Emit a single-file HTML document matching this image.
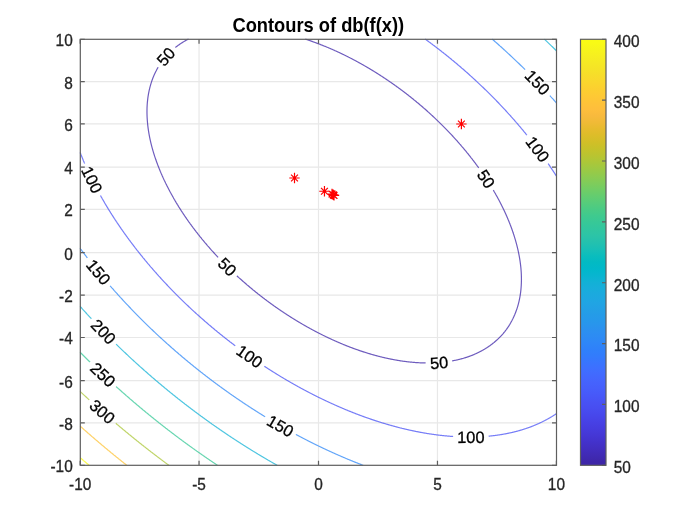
<!DOCTYPE html><html><head><meta charset="utf-8"><style>html,body{margin:0;padding:0;background:#fff;width:698px;height:523px;overflow:hidden}svg{display:block;will-change:transform}text{font-family:"Liberation Sans",sans-serif}</style></head><body>
<svg width="698" height="523" viewBox="0 0 698 523">
<rect x="0" y="0" width="698" height="523" fill="#fff"/>
<path d="M199.04 39.30 V465.30 M318.50 39.30 V465.30 M437.47 39.30 V465.30 M80.30 422.95 H556.50 M80.30 380.55 H556.50 M80.30 337.50 H556.50 M80.30 295.10 H556.50 M80.30 252.70 H556.50 M80.30 209.40 H556.50 M80.30 167.20 H556.50 M80.30 123.94 H556.50 M80.30 81.58 H556.50" stroke="#e8e8e8" stroke-width="1.2" fill="none"/>
<g fill="none" stroke-width="1.20" stroke-linejoin="round" stroke-linecap="butt">
<path stroke="#3e26a8" stroke-opacity="0.75" d="M188.51 39.07 L188.12 39.27 L187.87 39.40 L187.55 39.57 L187.12 39.80 L186.87 39.94 L186.62 40.07 L186.17 40.32 L185.87 40.49 L185.62 40.63 L185.28 40.82 L184.87 41.05 L184.62 41.20 L184.37 41.34 L183.99 41.57 L183.62 41.79 L183.37 41.94 L183.12 42.09 L182.75 42.32 L182.37 42.56 L182.12 42.72 L181.87 42.87 L181.56 43.07 L181.18 43.32 L180.87 43.52 L180.62 43.69 L180.37 43.85 L180.05 44.07 L179.68 44.32 L179.37 44.54 L179.12 44.71 L178.87 44.88 L178.61 45.07 L178.26 45.32 L177.91 45.57 L177.62 45.78 L177.37 45.97 L177.12 46.15 L176.87 46.34 L176.57 46.57 L176.24 46.82 L175.92 47.07 L175.62 47.31 L175.37 47.50 M158.12 67.30 L157.96 67.57 L157.82 67.82 L157.62 68.16 L157.39 68.57 L157.25 68.82 L157.11 69.07 L156.87 69.51 L156.70 69.82 L156.57 70.07 L156.37 70.45 L156.17 70.82 L156.05 71.07 L155.87 71.42 L155.67 71.82 L155.54 72.07 L155.37 72.42 L155.18 72.82 L155.06 73.07 L154.87 73.47 L154.71 73.82 L154.59 74.07 L154.37 74.56 L154.25 74.82 L154.12 75.12 L153.93 75.57 L153.82 75.82 L153.62 76.29 L153.50 76.57 L153.37 76.89 L153.20 77.32 L153.10 77.57 L152.90 78.07 L152.80 78.32 L152.62 78.80 L152.52 79.07 L152.37 79.46 L152.24 79.82 L152.12 80.15 L151.97 80.57 L151.87 80.86 L151.71 81.32 L151.62 81.59 L151.46 82.07 L151.37 82.35 L151.22 82.82 L151.12 83.13 L150.98 83.57 L150.87 83.93 L150.75 84.32 L150.62 84.77 L150.53 85.07 L150.39 85.57 L150.32 85.82 L150.18 86.32 L150.12 86.57 L149.98 87.07 L149.87 87.51 L149.79 87.82 L149.67 88.32 L149.61 88.57 L149.49 89.07 L149.37 89.57 L149.31 89.82 L149.20 90.32 L149.12 90.70 L149.04 91.07 L148.94 91.57 L148.87 91.90 L148.79 92.32 L148.69 92.82 L148.62 93.19 L148.55 93.57 L148.46 94.07 L148.37 94.57 L148.33 94.82 L148.25 95.32 L148.17 95.82 L148.12 96.13 L148.05 96.57 L147.98 97.07 L147.91 97.57 L147.87 97.88 L147.81 98.32 L147.75 98.82 L147.69 99.32 L147.63 99.82 L147.60 100.07 L147.55 100.57 L147.50 101.07 L147.45 101.57 L147.40 102.07 L147.37 102.42 L147.34 102.82 L147.30 103.32 L147.26 103.82 L147.22 104.32 L147.19 104.82 L147.16 105.32 L147.13 105.82 L147.12 106.07 L147.09 106.57 L147.07 107.07 L147.05 107.57 L147.03 108.07 L147.02 108.57 L147.01 109.07 L147.00 109.57 L146.99 110.07 L146.98 110.57 L146.98 111.07 L146.98 111.57 L146.98 112.07 L146.98 112.57 L146.99 113.07 L146.99 113.57 L147.00 114.07 L147.02 114.57 L147.03 115.07 L147.05 115.57 L147.06 116.07 L147.08 116.57 L147.11 117.07 L147.12 117.35 L147.14 117.82 L147.17 118.32 L147.20 118.82 L147.23 119.32 L147.27 119.82 L147.30 120.32 L147.34 120.82 L147.37 121.20 L147.40 121.57 L147.44 122.07 L147.49 122.57 L147.54 123.07 L147.58 123.57 L147.62 123.93 L147.66 124.32 L147.71 124.82 L147.77 125.32 L147.83 125.82 L147.87 126.18 L147.92 126.57 L147.98 127.07 L148.04 127.57 L148.11 128.07 L148.14 128.32 L148.21 128.82 L148.28 129.32 L148.36 129.82 L148.39 130.07 L148.47 130.57 L148.54 131.07 L148.62 131.55 L148.66 131.82 L148.75 132.32 L148.83 132.82 L148.87 133.07 L148.96 133.57 L149.05 134.07 L149.12 134.48 L149.18 134.82 L149.27 135.32 L149.37 135.82 L149.42 136.07 L149.51 136.57 L149.61 137.07 L149.66 137.32 L149.76 137.82 L149.87 138.32 L149.92 138.57 L150.02 139.07 L150.12 139.51 L150.19 139.82 L150.30 140.32 L150.37 140.65 L150.46 141.07 L150.58 141.57 L150.64 141.82 L150.75 142.32 L150.87 142.81 L150.93 143.07 L151.05 143.57 L151.12 143.84 L151.24 144.32 L151.36 144.82 L151.43 145.07 L151.55 145.57 L151.62 145.82 L151.75 146.32 L151.87 146.78 L151.95 147.07 L152.08 147.57 L152.15 147.82 L152.29 148.32 L152.37 148.62 L152.49 149.07 L152.62 149.51 L152.71 149.82 L152.85 150.32 L152.92 150.57 L153.07 151.07 L153.14 151.32 L153.29 151.82 L153.37 152.09 L153.51 152.57 L153.62 152.92 L153.74 153.32 L153.87 153.73 L153.98 154.07 L154.12 154.53 L154.21 154.82 L154.37 155.32 L154.45 155.57 L154.61 156.07 L154.69 156.32 L154.86 156.82 L154.94 157.07 L155.11 157.57 L155.19 157.82 L155.36 158.32 L155.45 158.57 L155.62 159.07 L155.70 159.32 L155.87 159.80 L155.96 160.07 L156.12 160.52 L156.23 160.82 L156.37 161.22 L156.49 161.57 L156.62 161.92 L156.77 162.32 L156.87 162.61 L157.04 163.07 L157.13 163.32 L157.32 163.82 L157.41 164.07 L157.60 164.57 L157.69 164.82 L157.87 165.28 L157.98 165.57 L158.12 165.93 L158.27 166.32 L158.37 166.58 L158.56 167.07 L158.66 167.32 L158.86 167.82 L158.96 168.07 L159.12 168.48 L159.26 168.82 L159.37 169.10 L159.56 169.57 L159.66 169.82 L159.87 170.32 L159.97 170.57 L160.12 170.93 L160.28 171.32 L160.39 171.57 L160.60 172.07 L160.71 172.32 L160.87 172.71 L161.03 173.07 L161.13 173.32 L161.35 173.82 L161.46 174.07 L161.62 174.44 L161.78 174.82 L161.89 175.07 L162.11 175.57 L162.23 175.82 L162.37 176.14 L162.56 176.57 L162.67 176.82 L162.87 177.25 L163.01 177.57 L163.13 177.82 L163.36 178.32 L163.47 178.57 L163.62 178.89 L163.82 179.32 L163.93 179.57 L164.12 179.97 L164.29 180.32 L164.40 180.57 L164.62 181.02 L164.76 181.32 L164.88 181.57 L165.12 182.07 L165.24 182.32 L165.37 182.59 L165.60 183.07 L165.73 183.32 L165.87 183.61 L166.09 184.07 L166.22 184.32 L166.37 184.63 L166.59 185.07 L166.71 185.32 L166.87 185.63 L167.09 186.07 L167.22 186.32 L167.37 186.62 L167.60 187.07 L167.73 187.32 L167.87 187.60 L168.11 188.07 L168.24 188.32 L168.37 188.57 L168.62 189.05 L168.76 189.32 L168.89 189.57 L169.12 190.00 L169.29 190.32 L169.42 190.57 L169.62 190.94 L169.82 191.32 L169.95 191.57 L170.12 191.88 L170.36 192.32 L170.49 192.57 L170.63 192.82 L170.87 193.26 L171.04 193.57 L171.18 193.82 L171.37 194.17 L171.59 194.57 L171.73 194.82 L171.87 195.07 L172.12 195.52 L172.29 195.82 L172.43 196.07 L172.62 196.41 L172.85 196.82 L172.99 197.07 L173.13 197.32 L173.37 197.73 L173.56 198.07 L173.71 198.32 L173.87 198.60 L174.12 199.04 L174.29 199.32 L174.43 199.57 L174.62 199.89 L174.87 200.32 L175.02 200.57 L175.16 200.82 L175.37 201.17 L175.61 201.57 L175.76 201.82 L175.91 202.07 L176.12 202.43 L176.35 202.82 L176.51 203.07 L176.66 203.32 L176.87 203.67 L177.11 204.07 L177.26 204.32 L177.42 204.57 L177.62 204.90 L177.87 205.31 L178.03 205.57 L178.19 205.82 L178.37 206.12 L178.62 206.52 L178.81 206.82 L178.96 207.07 L179.12 207.32 L179.37 207.72 L179.59 208.07 L179.75 208.32 L179.91 208.57 L180.12 208.90 L180.37 209.29 L180.55 209.57 L180.71 209.82 L180.87 210.07 L181.12 210.46 L181.35 210.82 L181.51 211.07 L181.68 211.32 L181.87 211.62 L182.12 212.00 L182.33 212.32 L182.49 212.57 L182.66 212.82 L182.87 213.14 L183.12 213.52 L183.32 213.82 L183.49 214.07 L183.66 214.32 L183.87 214.64 L184.12 215.01 L184.33 215.32 L184.50 215.57 L184.66 215.82 L184.87 216.12 L185.12 216.49 L185.35 216.82 L185.52 217.07 L185.69 217.32 L185.87 217.59 L186.12 217.95 L186.37 218.31 L186.55 218.57 L186.72 218.82 L186.90 219.07 L187.12 219.39 L187.37 219.75 L187.60 220.07 L187.77 220.32 L187.95 220.57 L188.13 220.82 L188.37 221.17 L188.62 221.52 L188.84 221.82 L189.01 222.07 L189.19 222.32 L189.37 222.57 L189.62 222.91 L189.87 223.26 L190.09 223.57 L190.27 223.82 L190.46 224.07 L190.64 224.32 L190.87 224.64 L191.12 224.98 L191.37 225.32 L191.55 225.57 L191.74 225.82 L191.92 226.07 L192.12 226.34 L192.37 226.68 L192.62 227.01 L192.85 227.32 L193.04 227.57 L193.22 227.82 L193.41 228.07 L193.62 228.35 L193.87 228.68 L194.12 229.01 L194.35 229.32 L194.54 229.57 L194.73 229.82 L194.92 230.07 L195.12 230.33 L195.37 230.65 L195.62 230.98 L195.87 231.30 L196.08 231.57 L196.27 231.82 L196.46 232.07 L196.66 232.32 L196.87 232.59 L197.12 232.91 L197.37 233.23 L197.62 233.55 L197.83 233.82 L198.03 234.07 L198.22 234.32 L198.42 234.57 L198.62 234.82 L198.87 235.14 L199.12 235.45 L199.37 235.76 L199.61 236.07 L199.81 236.32 L200.02 236.57 L200.22 236.82 L200.42 237.07 L200.62 237.32 L200.87 237.63 L201.12 237.94 L201.37 238.24 L201.62 238.55 L201.84 238.82 L202.04 239.07 L202.25 239.32 L202.46 239.57 L202.66 239.82 L202.87 240.07 L203.12 240.37 L203.37 240.68 L203.62 240.98 L203.87 241.28 L204.11 241.57 L204.32 241.82 L204.53 242.07 L204.74 242.32 L204.95 242.57 L205.16 242.82 L205.38 243.07 L205.62 243.36 L205.87 243.65 L206.12 243.95 L206.37 244.24 L206.62 244.53 L206.87 244.82 L207.08 245.07 L207.29 245.32 L207.51 245.57 L207.73 245.82 L207.94 246.07 L208.16 246.32 L208.38 246.57 L208.62 246.85 L208.87 247.14 L209.12 247.42 L209.37 247.71 L209.62 247.99 L209.87 248.28 L210.12 248.56 L210.35 248.82 L210.57 249.07 L210.79 249.32 L211.01 249.57 L211.23 249.82 L211.46 250.07 L211.68 250.32 L211.90 250.57 L212.13 250.82 L212.37 251.09 L212.62 251.37 L212.87 251.64 L213.12 251.92 L213.37 252.20 L213.62 252.47 L213.87 252.75 L214.12 253.02 L214.37 253.29 L214.62 253.57 L214.85 253.82 L215.08 254.07 L215.31 254.32 L215.54 254.57 L215.77 254.82 L216.01 255.07 L216.24 255.32 L216.47 255.57 L216.70 255.82 L216.94 256.07 L217.17 256.32 L217.41 256.57 L217.64 256.82 L217.87 257.07 L218.12 257.33 M236.86 275.82 L237.12 276.06 L237.37 276.29 L237.62 276.52 L237.87 276.75 L238.12 276.97 L238.37 277.20 L238.62 277.43 L238.87 277.66 L239.12 277.88 L239.37 278.11 L239.62 278.33 L239.88 278.57 L240.16 278.82 L240.44 279.07 L240.72 279.32 L241.00 279.57 L241.28 279.82 L241.56 280.07 L241.84 280.32 L242.12 280.57 L242.37 280.79 L242.62 281.01 L242.87 281.23 L243.12 281.45 L243.37 281.67 L243.62 281.89 L243.87 282.11 L244.12 282.32 L244.40 282.57 L244.69 282.82 L244.98 283.07 L245.27 283.32 L245.55 283.57 L245.84 283.82 L246.12 284.06 L246.37 284.27 L246.62 284.49 L246.87 284.70 L247.12 284.92 L247.37 285.13 L247.62 285.34 L247.89 285.57 L248.18 285.82 L248.48 286.07 L248.77 286.32 L249.07 286.57 L249.37 286.82 L249.62 287.03 L249.87 287.24 L250.12 287.45 L250.37 287.66 L250.62 287.87 L250.87 288.08 L251.16 288.32 L251.46 288.57 L251.76 288.82 L252.06 289.07 L252.37 289.32 L252.62 289.53 L252.87 289.73 L253.12 289.94 L253.37 290.14 L253.62 290.35 L253.89 290.57 L254.20 290.82 L254.51 291.07 L254.81 291.32 L255.12 291.57 L255.37 291.77 L255.62 291.97 L255.87 292.17 L256.12 292.37 L256.37 292.57 L256.68 292.82 L256.99 293.07 L257.30 293.32 L257.62 293.57 L257.87 293.77 L258.12 293.97 L258.37 294.17 L258.62 294.36 L258.88 294.57 L259.20 294.82 L259.52 295.07 L259.84 295.32 L260.12 295.54 L260.37 295.74 L260.62 295.93 L260.87 296.13 L261.12 296.32 L261.44 296.57 L261.76 296.82 L262.09 297.07 L262.37 297.29 L262.62 297.48 L262.87 297.67 L263.12 297.86 L263.39 298.07 L263.72 298.32 L264.05 298.57 L264.37 298.82 L264.62 299.01 L264.87 299.20 L265.12 299.38 L265.37 299.57 L265.70 299.82 L266.03 300.07 L266.36 300.32 L266.62 300.51 L266.87 300.70 L267.12 300.88 L267.37 301.07 L267.71 301.32 L268.04 301.57 L268.37 301.81 L268.62 302.00 L268.87 302.18 L269.12 302.36 L269.40 302.57 L269.74 302.82 L270.08 303.07 L270.37 303.28 L270.62 303.46 L270.87 303.64 L271.12 303.82 L271.46 304.07 L271.81 304.32 L272.12 304.55 L272.37 304.73 L272.62 304.91 L272.87 305.09 L273.20 305.32 L273.55 305.57 L273.87 305.80 L274.12 305.98 L274.37 306.15 L274.62 306.33 L274.96 306.57 L275.31 306.82 L275.62 307.04 L275.87 307.21 L276.12 307.39 L276.38 307.57 L276.74 307.82 L277.10 308.07 L277.37 308.26 L277.62 308.43 L277.87 308.61 L278.18 308.82 L278.54 309.07 L278.87 309.30 L279.12 309.47 L279.37 309.64 L279.64 309.82 L280.00 310.07 L280.37 310.32 L280.62 310.49 L280.87 310.66 L281.12 310.83 L281.48 311.07 L281.85 311.32 L282.12 311.50 L282.37 311.67 L282.62 311.84 L282.96 312.07 L283.34 312.32 L283.62 312.51 L283.87 312.67 L284.12 312.84 L284.47 313.07 L284.85 313.32 L285.12 313.50 L285.37 313.66 L285.62 313.83 L285.99 314.07 L286.37 314.32 L286.62 314.48 L286.87 314.64 L287.14 314.82 L287.53 315.07 L287.87 315.29 L288.12 315.45 L288.37 315.61 L288.69 315.82 L289.08 316.07 L289.37 316.25 L289.62 316.41 L289.87 316.57 L290.26 316.82 L290.62 317.05 L290.87 317.21 L291.12 317.37 L291.44 317.57 L291.84 317.82 L292.12 317.99 L292.37 318.15 L292.64 318.32 L293.04 318.57 L293.37 318.77 L293.62 318.93 L293.87 319.08 L294.25 319.32 L294.62 319.55 L294.87 319.70 L295.12 319.85 L295.47 320.07 L295.87 320.31 L296.12 320.46 L296.37 320.62 L296.71 320.82 L297.12 321.07 L297.37 321.22 L297.62 321.37 L297.95 321.57 L298.37 321.82 L298.62 321.97 L298.87 322.12 L299.20 322.32 L299.62 322.57 L299.87 322.71 L300.12 322.86 L300.47 323.07 L300.87 323.30 L301.12 323.45 L301.37 323.60 L301.75 323.82 L302.12 324.04 L302.37 324.18 L302.62 324.33 L303.04 324.57 L303.37 324.76 L303.62 324.90 L303.91 325.07 L304.34 325.32 L304.62 325.48 L304.87 325.62 L305.22 325.82 L305.62 326.05 L305.87 326.19 L306.12 326.33 L306.54 326.57 L306.87 326.75 L307.12 326.89 L307.43 327.07 L307.87 327.31 L308.12 327.45 L308.37 327.59 L308.78 327.82 L309.12 328.01 L309.37 328.14 L309.69 328.32 L310.12 328.56 L310.37 328.69 L310.62 328.83 L311.06 329.07 L311.37 329.24 L311.62 329.37 L311.98 329.57 L312.37 329.78 L312.62 329.91 L312.91 330.07 L313.37 330.32 L313.62 330.45 L313.87 330.58 L314.32 330.82 L314.62 330.98 L314.87 331.11 L315.26 331.32 L315.62 331.51 L315.87 331.64 L316.22 331.82 L316.62 332.03 L316.87 332.16 L317.18 332.32 L317.62 332.55 L317.87 332.68 L318.15 332.82 L318.62 333.06 L318.87 333.19 L319.12 333.32 L319.61 333.57 L319.87 333.70 L320.12 333.83 L320.60 334.07 L320.87 334.21 L321.12 334.33 L321.60 334.57 L321.87 334.71 L322.12 334.83 L322.60 335.07 L322.87 335.20 L323.12 335.33 L323.62 335.57 L323.87 335.69 L324.13 335.82 L324.62 336.06 L324.87 336.18 L325.15 336.32 L325.62 336.55 L325.87 336.67 L326.19 336.82 L326.62 337.03 L326.87 337.15 L327.23 337.32 L327.62 337.50 L327.87 337.62 L328.29 337.82 L328.62 337.98 L328.87 338.09 L329.35 338.32 L329.62 338.45 L329.89 338.57 L330.37 338.79 L330.62 338.91 L330.97 339.07 L331.37 339.26 L331.62 339.37 L332.06 339.57 L332.37 339.71 L332.62 339.83 L333.12 340.05 L333.37 340.17 L333.71 340.32 L334.12 340.50 L334.37 340.61 L334.83 340.82 L335.12 340.95 L335.39 341.07 L335.87 341.28 L336.12 341.39 L336.53 341.57 L336.87 341.72 L337.12 341.83 L337.62 342.05 L337.87 342.15 L338.26 342.32 L338.62 342.48 L338.87 342.58 L339.37 342.80 L339.62 342.90 L340.01 343.07 L340.37 343.22 L340.62 343.33 L341.12 343.54 L341.37 343.64 L341.80 343.82 L342.12 343.95 L342.40 344.07 L342.87 344.26 L343.12 344.37 L343.62 344.57 L343.87 344.67 L344.23 344.82 L344.62 344.98 L344.87 345.08 L345.37 345.28 L345.62 345.38 L346.10 345.57 L346.37 345.68 L346.73 345.82 L347.12 345.97 L347.37 346.07 L347.87 346.27 L348.12 346.37 L348.62 346.56 L348.87 346.66 L349.29 346.82 L349.62 346.95 L349.94 347.07 L350.37 347.23 L350.62 347.33 L351.12 347.52 L351.37 347.61 L351.87 347.80 L352.12 347.89 L352.60 348.07 L352.87 348.17 L353.27 348.32 L353.62 348.45 L353.96 348.57 L354.37 348.72 L354.64 348.82 L355.12 348.99 L355.37 349.08 L355.87 349.26 L356.12 349.35 L356.62 349.53 L356.87 349.62 L357.37 349.79 L357.62 349.88 L358.12 350.05 L358.37 350.14 L358.87 350.31 L359.12 350.40 L359.62 350.57 L359.87 350.66 L360.35 350.82 L360.62 350.91 L361.10 351.07 L361.37 351.16 L361.85 351.32 L362.12 351.41 L362.60 351.57 L362.87 351.66 L363.37 351.82 L363.62 351.90 L364.12 352.06 L364.37 352.14 L364.87 352.30 L365.12 352.38 L365.62 352.54 L365.87 352.62 L366.37 352.78 L366.62 352.86 L367.12 353.01 L367.37 353.09 L367.87 353.24 L368.13 353.32 L368.62 353.47 L368.95 353.57 L369.37 353.69 L369.79 353.82 L370.12 353.92 L370.62 354.07 L370.87 354.14 L371.37 354.28 L371.62 354.36 L372.12 354.50 L372.37 354.57 L372.87 354.72 L373.24 354.82 L373.62 354.93 L374.12 355.07 L374.37 355.14 L374.87 355.27 L375.12 355.34 L375.62 355.48 L375.95 355.57 L376.37 355.68 L376.87 355.82 L377.12 355.88 L377.62 356.01 L377.87 356.08 L378.37 356.21 L378.80 356.32 L379.12 356.40 L379.62 356.53 L379.87 356.59 L380.37 356.72 L380.77 356.82 L381.12 356.91 L381.62 357.03 L381.87 357.09 L382.37 357.21 L382.83 357.32 L383.12 357.39 L383.62 357.51 L383.88 357.57 L384.37 357.68 L384.87 357.80 L385.12 357.86 L385.62 357.97 L386.06 358.07 L386.37 358.14 L386.87 358.25 L387.19 358.32 L387.62 358.41 L388.12 358.52 L388.37 358.57 L388.87 358.68 L389.37 358.78 L389.62 358.84 L390.12 358.94 L390.62 359.04 L390.87 359.09 L391.37 359.19 L391.87 359.29 L392.12 359.34 L392.62 359.44 L393.12 359.53 L393.37 359.58 L393.87 359.67 L394.37 359.77 L394.66 359.82 L395.12 359.90 L395.62 359.99 L396.05 360.07 L396.37 360.13 L396.87 360.21 L397.37 360.30 L397.62 360.34 L398.12 360.42 L398.62 360.51 L399.01 360.57 L399.37 360.63 L399.87 360.71 L400.37 360.79 L400.62 360.82 L401.12 360.90 L401.62 360.97 L402.12 361.05 L402.37 361.08 L402.87 361.16 L403.37 361.23 L403.87 361.30 L404.12 361.33 L404.62 361.40 L405.12 361.46 L405.62 361.53 L405.96 361.57 L406.37 361.62 L406.87 361.68 L407.37 361.74 L407.87 361.80 L408.12 361.83 L408.62 361.89 L409.12 361.94 L409.62 362.00 L410.12 362.05 L410.37 362.07 L410.87 362.12 L411.37 362.17 L411.87 362.22 L412.37 362.27 L412.87 362.31 L413.12 362.33 L413.62 362.38 L414.12 362.42 L414.62 362.46 L415.12 362.50 L415.62 362.53 L416.11 362.57 L416.37 362.59 L416.87 362.62 L417.37 362.65 L417.87 362.68 L418.37 362.71 L418.87 362.74 L419.37 362.77 L419.87 362.79 L420.37 362.82 L420.62 362.83 L421.12 362.85 L421.62 362.87 L422.12 362.89 L422.62 362.90 L423.12 362.92 L423.62 362.93 L424.12 362.95 L424.62 362.96 L425.12 362.97 L425.62 362.97 M452.12 360.91 L452.60 360.82 L452.87 360.77 L453.37 360.68 L453.87 360.58 L454.12 360.53 L454.62 360.43 L455.12 360.33 L455.37 360.27 L455.87 360.17 L456.31 360.07 L456.62 360.00 L457.12 359.89 L457.43 359.82 L457.87 359.72 L458.37 359.60 L458.62 359.54 L459.12 359.42 L459.51 359.32 L459.87 359.23 L460.37 359.10 L460.62 359.03 L461.12 358.90 L461.43 358.82 L461.87 358.70 L462.33 358.57 L462.62 358.49 L463.12 358.35 L463.37 358.27 L463.87 358.13 L464.12 358.05 L464.62 357.90 L464.89 357.82 L465.37 357.67 L465.68 357.57 L466.12 357.43 L466.46 357.32 L466.87 357.19 L467.22 357.07 L467.62 356.93 L467.95 356.82 L468.37 356.68 L468.67 356.57 L469.12 356.41 L469.37 356.32 L469.87 356.14 L470.12 356.05 L470.62 355.86 L470.87 355.76 L471.37 355.57 L471.62 355.48 L472.02 355.32 L472.37 355.18 L472.64 355.07 L473.12 354.88 L473.37 354.77 L473.86 354.57 L474.12 354.46 L474.44 354.32 L474.87 354.14 L475.12 354.03 L475.59 353.82 L475.87 353.69 L476.14 353.57 L476.62 353.35 L476.87 353.24 L477.23 353.07 L477.62 352.88 L477.87 352.76 L478.27 352.57 L478.62 352.40 L478.87 352.28 L479.28 352.07 L479.62 351.90 L479.87 351.77 L480.26 351.57 L480.62 351.38 L480.87 351.25 L481.21 351.07 L481.62 350.85 L481.87 350.71 L482.13 350.57 L482.58 350.32 L482.87 350.16 L483.12 350.01 L483.46 349.82 L483.87 349.58 L484.12 349.44 L484.37 349.29 L484.73 349.07 L485.12 348.84 L485.37 348.68 L485.62 348.53 L485.96 348.32 L486.36 348.07 L486.62 347.90 L486.87 347.74 L487.13 347.57 L487.52 347.32 L487.87 347.09 L488.12 346.92 L488.37 346.75 L488.63 346.57 L489.00 346.32 L489.36 346.07 L489.62 345.89 L489.87 345.71 L490.12 345.53 L490.41 345.32 L490.75 345.07 L491.09 344.82 L491.37 344.61 L491.62 344.42 L491.87 344.23 L492.12 344.04 L492.41 343.82 L492.73 343.57 L493.04 343.32 L493.36 343.07 L493.62 342.86 L493.87 342.65 L494.12 342.45 L494.37 342.24 L494.62 342.03 L494.87 341.82 L495.16 341.57 L495.45 341.32 L495.74 341.07 L496.02 340.82 L496.30 340.57 L496.58 340.32 L496.86 340.07 L497.12 339.83 L497.37 339.60 L497.62 339.36 L497.87 339.13 L498.12 338.89 L498.37 338.65 L498.62 338.41 L498.87 338.16 L499.12 337.91 L499.37 337.66 L499.62 337.41 L499.87 337.16 L500.12 336.90 L500.37 336.64 L500.62 336.38 L500.87 336.11 L501.12 335.84 L501.37 335.57 L501.60 335.32 L501.83 335.07 L502.05 334.82 L502.27 334.57 L502.49 334.32 L502.71 334.07 L502.93 333.82 L503.14 333.57 L503.37 333.30 L503.62 333.00 L503.87 332.70 L504.12 332.39 L504.37 332.08 L504.58 331.82 L504.78 331.57 L504.98 331.32 L505.17 331.07 L505.37 330.81 L505.62 330.48 L505.87 330.15 L506.12 329.82 L506.30 329.57 L506.49 329.32 L506.67 329.07 L506.87 328.79 L507.12 328.43 L507.37 328.08 L507.55 327.82 L507.72 327.57 L507.89 327.32 L508.12 326.98 L508.37 326.60 L508.55 326.32 L508.71 326.07 L508.88 325.82 L509.12 325.44 L509.35 325.07 L509.50 324.82 L509.66 324.57 L509.87 324.22 L510.11 323.82 L510.26 323.57 L510.41 323.32 L510.62 322.95 L510.84 322.57 L510.98 322.32 L511.12 322.07 L511.37 321.62 L511.53 321.32 L511.67 321.07 L511.87 320.69 L512.07 320.32 L512.20 320.07 L512.37 319.73 L512.58 319.32 L512.70 319.07 L512.87 318.74 L513.07 318.32 L513.19 318.07 L513.37 317.70 L513.55 317.32 L513.67 317.07 L513.87 316.63 L514.01 316.32 L514.12 316.07 L514.34 315.57 L514.45 315.32 L514.62 314.92 L514.77 314.57 L514.87 314.32 L515.08 313.82 L515.18 313.57 L515.37 313.10 L515.48 312.82 L515.62 312.46 L515.77 312.07 L515.87 311.80 L516.05 311.32 L516.14 311.07 L516.32 310.57 L516.41 310.32 L516.58 309.82 L516.67 309.57 L516.84 309.07 L516.92 308.82 L517.08 308.32 L517.16 308.07 L517.32 307.57 L517.40 307.32 L517.55 306.82 L517.63 306.57 L517.78 306.07 L517.87 305.75 L517.99 305.32 L518.12 304.86 L518.20 304.57 L518.33 304.07 L518.40 303.82 L518.53 303.32 L518.62 302.96 L518.72 302.57 L518.84 302.07 L518.90 301.82 L519.02 301.32 L519.12 300.86 L519.19 300.57 L519.29 300.07 L519.37 299.71 L519.45 299.32 L519.55 298.82 L519.62 298.48 L519.70 298.07 L519.79 297.57 L519.87 297.16 L519.93 296.82 L520.02 296.32 L520.10 295.82 L520.14 295.57 L520.22 295.07 L520.30 294.57 L520.37 294.10 L520.41 293.82 L520.48 293.32 L520.55 292.82 L520.61 292.32 L520.64 292.07 L520.71 291.57 L520.76 291.07 L520.82 290.57 L520.87 290.10 L520.90 289.82 L520.95 289.32 L520.99 288.82 L521.04 288.32 L521.08 287.82 L521.12 287.32 L521.14 287.07 L521.17 286.57 L521.21 286.07 L521.24 285.57 L521.27 285.07 L521.29 284.57 L521.31 284.07 L521.34 283.57 L521.35 283.07 L521.37 282.61 L521.38 282.32 L521.39 281.82 L521.40 281.32 L521.41 280.82 L521.42 280.32 L521.42 279.82 L521.42 279.32 L521.42 278.82 L521.42 278.32 L521.41 277.82 L521.41 277.32 L521.40 276.82 L521.39 276.32 L521.37 275.82 L521.36 275.57 L521.35 275.07 L521.33 274.57 L521.31 274.07 L521.28 273.57 L521.26 273.07 L521.23 272.57 L521.20 272.07 L521.17 271.57 L521.14 271.07 L521.12 270.82 L521.08 270.32 L521.04 269.82 L521.00 269.32 L520.96 268.82 L520.92 268.32 L520.87 267.82 L520.85 267.57 L520.80 267.07 L520.75 266.57 L520.69 266.07 L520.64 265.57 L520.61 265.32 L520.55 264.82 L520.49 264.32 L520.43 263.82 L520.37 263.37 L520.33 263.07 L520.26 262.57 L520.20 262.07 L520.13 261.57 L520.09 261.32 L520.02 260.82 L519.94 260.32 L519.87 259.86 L519.82 259.57 L519.75 259.07 L519.66 258.57 L519.62 258.31 L519.54 257.82 L519.45 257.32 L519.37 256.86 L519.32 256.57 L519.23 256.07 L519.14 255.57 L519.09 255.32 L518.99 254.82 L518.90 254.32 L518.85 254.07 L518.75 253.57 L518.65 253.07 L518.60 252.82 L518.49 252.32 L518.39 251.82 L518.33 251.57 L518.23 251.07 L518.12 250.59 L518.06 250.32 L517.95 249.82 L517.87 249.48 L517.78 249.07 L517.66 248.57 L517.60 248.32 L517.48 247.82 L517.37 247.36 L517.30 247.07 L517.18 246.57 L517.11 246.32 L516.99 245.82 L516.87 245.36 L516.80 245.07 L516.67 244.57 L516.60 244.32 L516.47 243.82 L516.37 243.46 L516.27 243.07 L516.13 242.57 L516.06 242.32 L515.92 241.82 L515.85 241.57 L515.71 241.07 L515.62 240.76 L515.49 240.32 L515.37 239.89 L515.28 239.57 L515.13 239.07 L515.05 238.82 L514.90 238.32 L514.83 238.07 L514.67 237.57 L514.60 237.32 L514.44 236.82 L514.36 236.57 L514.21 236.07 L514.12 235.80 L513.97 235.32 L513.87 235.02 L513.72 234.57 L513.62 234.25 L513.48 233.82 L513.37 233.50 L513.23 233.07 L513.12 232.75 L512.97 232.32 L512.87 232.01 L512.72 231.57 L512.62 231.29 L512.46 230.82 L512.37 230.57 L512.19 230.07 L512.10 229.82 L511.93 229.32 L511.84 229.07 L511.65 228.57 L511.56 228.32 L511.38 227.82 L511.29 227.57 L511.12 227.12 L511.01 226.82 L510.87 226.45 L510.73 226.07 L510.62 225.79 L510.44 225.32 L510.35 225.07 L510.15 224.57 L510.06 224.32 L509.87 223.84 L509.76 223.57 L509.62 223.21 L509.46 222.82 L509.37 222.57 L509.16 222.07 L509.06 221.82 L508.87 221.34 L508.76 221.07 L508.62 220.73 L508.45 220.32 L508.35 220.07 L508.14 219.57 L508.03 219.32 L507.87 218.93 L507.72 218.57 L507.61 218.32 L507.40 217.82 L507.29 217.57 L507.12 217.17 L506.97 216.82 L506.86 216.57 L506.64 216.07 L506.53 215.82 L506.37 215.46 L506.20 215.07 L506.09 214.82 L505.87 214.33 L505.75 214.07 L505.62 213.78 L505.41 213.32 L505.30 213.07 L505.12 212.68 L504.96 212.32 L504.84 212.07 L504.62 211.60 L504.49 211.32 L504.37 211.06 L504.14 210.57 L504.02 210.32 L503.87 210.00 L503.67 209.57 L503.55 209.32 L503.37 208.95 L503.19 208.57 L503.07 208.32 L502.87 207.92 L502.70 207.57 L502.58 207.32 L502.37 206.89 L502.21 206.57 L502.09 206.32 L501.87 205.88 L501.71 205.57 L501.59 205.32 L501.37 204.89 L501.21 204.57 L501.08 204.32 L500.87 203.90 L500.70 203.57 L500.57 203.32 L500.37 202.92 L500.19 202.57 L500.06 202.32 L499.87 201.96 L499.67 201.57 L499.54 201.32 L499.37 201.00 L499.14 200.57 L499.01 200.32 L498.87 200.06 L498.62 199.59 L498.48 199.32 L498.34 199.07 L498.12 198.66 L497.94 198.32 L497.80 198.07 L497.62 197.74 L497.39 197.32 L497.26 197.07 L497.12 196.82 L496.87 196.37 L496.70 196.07 L496.56 195.82 L496.37 195.47 L496.15 195.07 L496.00 194.82 L495.86 194.57 L495.62 194.14 L495.44 193.82 L495.30 193.57 L495.12 193.26 L494.87 192.82 L494.73 192.57 L494.58 192.32 L494.37 191.95 L494.15 191.57 L494.00 191.32 L493.86 191.07 L493.62 190.67 L493.42 190.32 L493.27 190.07 M478.71 167.82 L478.53 167.57 L478.35 167.32 L478.12 167.00 L477.87 166.66 L477.62 166.32 L477.44 166.07 L477.26 165.82 L477.07 165.57 L476.87 165.29 L476.62 164.95 L476.37 164.61 L476.15 164.32 L475.97 164.07 L475.78 163.82 L475.59 163.57 L475.37 163.27 L475.12 162.94 L474.87 162.60 L474.66 162.32 L474.47 162.07 L474.28 161.82 L474.09 161.57 L473.87 161.28 L473.62 160.95 L473.37 160.62 L473.14 160.32 L472.95 160.07 L472.75 159.82 L472.56 159.57 L472.37 159.32 L472.12 159.00 L471.87 158.68 L471.62 158.35 L471.40 158.07 L471.20 157.82 L471.01 157.57 L470.81 157.32 L470.62 157.07 L470.37 156.76 L470.12 156.44 L469.87 156.13 L469.63 155.82 L469.43 155.57 L469.23 155.32 L469.03 155.07 L468.83 154.82 L468.62 154.56 L468.37 154.25 L468.12 153.93 L467.87 153.63 L467.62 153.32 L467.42 153.07 L467.22 152.82 L467.01 152.57 L466.81 152.32 L466.61 152.07 L466.37 151.78 L466.12 151.48 L465.87 151.17 L465.62 150.87 L465.37 150.57 L465.17 150.32 L464.96 150.07 L464.75 149.82 L464.54 149.57 L464.33 149.32 L464.12 149.07 L463.87 148.77 L463.62 148.47 L463.37 148.17 L463.12 147.88 L462.87 147.58 L462.65 147.32 L462.44 147.07 L462.22 146.82 L462.01 146.57 L461.80 146.32 L461.58 146.07 L461.37 145.82 L461.12 145.53 L460.87 145.24 L460.62 144.95 L460.37 144.66 L460.12 144.37 L459.87 144.09 L459.64 143.82 L459.42 143.57 L459.20 143.32 L458.98 143.07 L458.76 142.82 L458.54 142.57 L458.32 142.32 L458.10 142.07 L457.87 141.81 L457.62 141.52 L457.37 141.24 L457.12 140.96 L456.87 140.68 L456.62 140.40 L456.37 140.12 L456.12 139.85 L455.87 139.57 L455.65 139.32 L455.42 139.07 L455.20 138.82 L454.97 138.57 L454.74 138.32 L454.51 138.07 L454.29 137.82 L454.06 137.57 L453.83 137.32 L453.60 137.07 L453.37 136.82 L453.12 136.55 L452.87 136.28 L452.62 136.01 L452.37 135.74 L452.12 135.47 L451.87 135.20 L451.62 134.93 L451.37 134.66 L451.12 134.40 L450.87 134.13 L450.62 133.86 L450.37 133.60 L450.12 133.33 L449.87 133.07 L449.63 132.82 L449.40 132.57 L449.16 132.32 L448.92 132.07 L448.68 131.82 L448.44 131.57 L448.20 131.32 L447.96 131.07 L447.72 130.82 L447.48 130.57 L447.24 130.32 L447.00 130.07 L446.76 129.82 L446.51 129.57 L446.27 129.32 L446.03 129.07 L445.78 128.82 L445.54 128.57 L445.29 128.32 L445.05 128.07 L444.80 127.82 L444.55 127.57 L444.31 127.32 L444.06 127.07 L443.81 126.82 L443.56 126.57 L443.31 126.32 L443.07 126.07 L442.82 125.82 L442.56 125.57 L442.31 125.32 L442.06 125.07 L441.81 124.82 L441.56 124.57 L441.31 124.32 L441.05 124.07 L440.80 123.82 L440.54 123.57 L440.29 123.32 L440.03 123.07 L439.78 122.82 L439.52 122.57 L439.27 122.32 L439.01 122.07 L438.75 121.82 L438.49 121.57 L438.23 121.32 L437.98 121.07 L437.72 120.82 L437.46 120.57 L437.20 120.32 L436.93 120.07 L436.67 119.82 L436.41 119.57 L436.15 119.32 L435.88 119.07 L435.62 118.82 L435.37 118.58 L435.12 118.35 L434.87 118.11 L434.62 117.88 L434.37 117.64 L434.12 117.41 L433.87 117.17 L433.62 116.94 L433.37 116.71 L433.12 116.47 L432.87 116.24 L432.62 116.01 L432.37 115.78 L432.12 115.55 L431.87 115.32 L431.60 115.07 L431.33 114.82 L431.06 114.57 L430.78 114.32 L430.51 114.07 L430.24 113.82 L429.96 113.57 L429.69 113.32 L429.41 113.07 L429.13 112.82 L428.87 112.58 L428.62 112.36 L428.37 112.13 L428.12 111.91 L427.87 111.68 L427.62 111.46 L427.37 111.24 L427.12 111.01 L426.87 110.79 L426.62 110.57 L426.34 110.32 L426.06 110.07 L425.77 109.82 L425.49 109.57 L425.21 109.32 L424.92 109.07 L424.64 108.82 L424.37 108.59 L424.12 108.37 L423.87 108.15 L423.62 107.93 L423.37 107.72 L423.12 107.50 L422.87 107.28 L422.62 107.07 L422.33 106.82 L422.04 106.57 L421.75 106.32 L421.46 106.07 L421.17 105.82 L420.87 105.57 L420.62 105.35 L420.37 105.14 L420.12 104.93 L419.87 104.72 L419.62 104.51 L419.37 104.30 L419.10 104.07 L418.80 103.82 L418.51 103.57 L418.21 103.32 L417.91 103.07 L417.62 102.83 L417.37 102.62 L417.12 102.41 L416.87 102.21 L416.62 102.00 L416.37 101.79 L416.10 101.57 L415.80 101.32 L415.49 101.07 L415.19 100.82 L414.88 100.57 L414.62 100.35 L414.37 100.15 L414.12 99.95 L413.87 99.74 L413.62 99.54 L413.35 99.32 L413.04 99.07 L412.73 98.82 L412.42 98.57 L412.12 98.33 L411.87 98.13 L411.62 97.93 L411.37 97.73 L411.12 97.53 L410.85 97.32 L410.54 97.07 L410.22 96.82 L409.91 96.57 L409.62 96.34 L409.37 96.15 L409.12 95.95 L408.87 95.75 L408.62 95.56 L408.32 95.32 L408.00 95.07 L407.68 94.82 L407.37 94.58 L407.12 94.39 L406.87 94.19 L406.62 94.00 L406.37 93.81 L406.06 93.57 L405.74 93.32 L405.41 93.07 L405.12 92.85 L404.87 92.66 L404.62 92.47 L404.37 92.28 L404.10 92.07 L403.77 91.82 L403.44 91.57 L403.12 91.33 L402.87 91.14 L402.62 90.95 L402.37 90.76 L402.11 90.57 L401.78 90.32 L401.44 90.07 L401.12 89.83 L400.87 89.64 L400.62 89.46 L400.37 89.27 L400.10 89.07 L399.76 88.82 L399.42 88.57 L399.12 88.35 L398.87 88.17 L398.62 87.99 L398.37 87.80 L398.05 87.57 L397.71 87.32 L397.37 87.07 L397.12 86.89 L396.87 86.71 L396.62 86.53 L396.33 86.32 L395.98 86.07 L395.63 85.82 L395.37 85.63 L395.12 85.46 L394.87 85.28 L394.58 85.07 L394.23 84.82 L393.88 84.57 L393.62 84.39 L393.37 84.21 L393.12 84.04 L392.81 83.82 L392.46 83.57 L392.12 83.33 L391.87 83.16 L391.62 82.98 L391.37 82.81 L391.02 82.57 L390.66 82.32 L390.37 82.12 L390.12 81.94 L389.87 81.77 L389.58 81.57 L389.21 81.32 L388.87 81.09 L388.62 80.91 L388.37 80.74 L388.11 80.57 L387.75 80.32 L387.38 80.07 L387.12 79.90 L386.87 79.73 L386.62 79.56 L386.27 79.32 L385.89 79.07 L385.62 78.89 L385.37 78.72 L385.12 78.55 L384.77 78.32 L384.39 78.07 L384.12 77.89 L383.87 77.72 L383.62 77.56 L383.26 77.32 L382.88 77.07 L382.62 76.90 L382.37 76.74 L382.11 76.57 L381.73 76.32 L381.37 76.09 L381.12 75.92 L380.87 75.76 L380.57 75.57 L380.19 75.32 L379.87 75.12 L379.62 74.96 L379.37 74.80 L379.02 74.57 L378.62 74.32 L378.37 74.16 L378.12 74.00 L377.84 73.82 L377.44 73.57 L377.12 73.37 L376.87 73.21 L376.62 73.05 L376.25 72.82 L375.87 72.58 L375.62 72.43 L375.37 72.27 L375.05 72.07 L374.64 71.82 L374.37 71.65 L374.12 71.50 L373.83 71.32 L373.43 71.07 L373.12 70.88 L372.87 70.73 L372.61 70.57 L372.20 70.32 L371.87 70.12 L371.62 69.97 L371.37 69.82 L370.96 69.57 L370.62 69.37 L370.37 69.22 L370.12 69.07 L369.71 68.82 L369.37 68.62 L369.12 68.47 L368.87 68.32 L368.45 68.07 L368.12 67.88 L367.87 67.73 L367.60 67.57 L367.17 67.32 L366.87 67.14 L366.62 67.00 L366.32 66.82 L365.89 66.57 L365.62 66.41 L365.37 66.27 L365.03 66.07 L364.62 65.84 L364.37 65.69 L364.12 65.55 L363.72 65.32 L363.37 65.12 L363.12 64.98 L362.84 64.82 L362.40 64.57 L362.12 64.41 L361.87 64.27 L361.51 64.07 L361.12 63.85 L360.87 63.71 L360.62 63.57 L360.17 63.32 L359.87 63.15 L359.62 63.01 L359.27 62.82 L358.87 62.60 L358.62 62.46 L358.36 62.32 L357.90 62.07 L357.62 61.92 L357.37 61.78 L356.99 61.57 L356.62 61.37 L356.37 61.24 L356.06 61.07 L355.62 60.83 L355.37 60.70 L355.12 60.57 L354.66 60.32 L354.37 60.17 L354.12 60.03 L353.72 59.82 L353.37 59.64 L353.12 59.50 L352.77 59.32 L352.37 59.11 L352.12 58.98 L351.81 58.82 L351.37 58.59 L351.12 58.46 L350.85 58.32 L350.37 58.07 L350.12 57.94 L349.87 57.82 L349.39 57.57 L349.12 57.43 L348.87 57.31 L348.41 57.07 L348.12 56.93 L347.87 56.80 L347.41 56.57 L347.12 56.42 L346.87 56.30 L346.41 56.07 L346.12 55.92 L345.87 55.80 L345.41 55.57 L345.12 55.43 L344.87 55.31 L344.39 55.07 L344.12 54.94 L343.87 54.82 L343.37 54.57 L343.12 54.45 L342.85 54.32 L342.37 54.09 L342.12 53.97 L341.81 53.82 L341.37 53.61 L341.12 53.49 L340.76 53.32 L340.37 53.13 L340.12 53.02 L339.70 52.82 L339.37 52.66 L339.12 52.55 L338.64 52.32 L338.37 52.20 L338.10 52.07 L337.62 51.85 L337.37 51.73 L337.01 51.57 L336.62 51.39 L336.37 51.28 L335.92 51.07 L335.62 50.93 L335.37 50.82 L334.87 50.60 L334.62 50.48 L334.26 50.32 L333.87 50.15 L333.62 50.04 L333.13 49.82 L332.87 49.70 L332.57 49.57 L332.12 49.37 L331.87 49.26 L331.43 49.07 L331.12 48.94 L330.85 48.82 L330.37 48.61 L330.12 48.50 L329.69 48.32 L329.37 48.18 L329.11 48.07 L328.62 47.86 L328.37 47.76 L327.93 47.57 L327.62 47.44 L327.34 47.32 L326.87 47.13 L326.62 47.02 L326.14 46.82 L325.87 46.71 L325.53 46.57 L325.12 46.40 L324.87 46.30 L324.37 46.10 L324.12 45.99 L323.69 45.82 L323.37 45.69 L323.07 45.57 L322.62 45.39 L322.37 45.29 L321.87 45.09 L321.62 44.99 L321.18 44.82 L320.87 44.70 L320.54 44.57 L320.12 44.40 L319.87 44.31 L319.37 44.11 L319.12 44.02 L318.62 43.83 L318.37 43.73 L317.95 43.57 L317.62 43.44 L317.29 43.32 L316.87 43.16 L316.62 43.07 L316.12 42.88 L315.87 42.79 L315.37 42.60 L315.12 42.51 L314.62 42.33 L314.37 42.24 L313.91 42.07 L313.62 41.96 L313.22 41.82 L312.87 41.69 L312.52 41.57 L312.12 41.43 L311.82 41.32 L311.37 41.16 L311.11 41.07 L310.62 40.90 L310.37 40.81 L309.87 40.64 L309.62 40.55 L309.12 40.38 L308.87 40.29 L308.37 40.12 L308.12 40.04 L307.62 39.87 L307.37 39.79 L306.87 39.62 L306.62 39.54 L306.12 39.37 L305.87 39.29 L305.37 39.12"/>
<path stroke="#4852f4" stroke-opacity="0.75" d="M556.37 175.97 L556.12 175.58 L555.96 175.32 L555.80 175.07 L555.62 174.80 L555.37 174.41 L555.15 174.07 L554.99 173.82 L554.83 173.57 L554.62 173.24 L554.37 172.86 L554.18 172.57 L554.02 172.32 L553.86 172.07 L553.62 171.71 L553.37 171.33 L553.20 171.07 L553.04 170.82 L552.87 170.57 L552.62 170.19 L552.38 169.82 L552.21 169.57 L552.05 169.32 L551.87 169.05 L551.62 168.68 L551.38 168.32 L551.21 168.07 L551.05 167.82 L550.87 167.56 L550.62 167.19 L550.37 166.82 L550.21 166.57 L550.04 166.32 L549.87 166.07 L549.62 165.70 L549.37 165.34 L549.19 165.07 L549.02 164.82 L548.85 164.57 L548.62 164.24 L548.37 163.87 L548.16 163.57 M526.87 135.07 L526.67 134.82 L526.47 134.57 L526.26 134.32 L526.06 134.07 L525.86 133.82 L525.62 133.53 L525.37 133.22 L525.12 132.92 L524.87 132.61 L524.63 132.32 L524.43 132.07 L524.22 131.82 L524.02 131.57 L523.81 131.32 L523.60 131.07 L523.37 130.79 L523.12 130.49 L522.87 130.18 L522.62 129.88 L522.37 129.58 L522.15 129.32 L521.94 129.07 L521.73 128.82 L521.52 128.57 L521.32 128.32 L521.11 128.07 L520.87 127.79 L520.62 127.49 L520.37 127.20 L520.12 126.90 L519.87 126.60 L519.63 126.32 L519.42 126.07 L519.21 125.82 L518.99 125.57 L518.78 125.32 L518.57 125.07 L518.35 124.82 L518.12 124.55 L517.87 124.26 L517.62 123.96 L517.37 123.67 L517.12 123.38 L516.87 123.09 L516.64 122.82 L516.42 122.57 L516.20 122.32 L515.99 122.07 L515.77 121.82 L515.55 121.57 L515.34 121.32 L515.12 121.07 L514.87 120.79 L514.62 120.50 L514.37 120.21 L514.12 119.93 L513.87 119.64 L513.62 119.36 L513.37 119.08 L513.14 118.82 L512.92 118.57 L512.70 118.32 L512.48 118.07 L512.26 117.82 L512.04 117.57 L511.82 117.32 L511.59 117.07 L511.37 116.82 L511.12 116.54 L510.87 116.26 L510.62 115.98 L510.37 115.70 L510.12 115.42 L509.87 115.14 L509.62 114.87 L509.37 114.59 L509.13 114.32 L508.90 114.07 L508.68 113.82 L508.45 113.57 L508.22 113.32 L507.99 113.07 L507.77 112.82 L507.54 112.57 L507.31 112.32 L507.08 112.07 L506.85 111.82 L506.62 111.56 L506.37 111.29 L506.12 111.02 L505.87 110.75 L505.62 110.48 L505.37 110.21 L505.12 109.93 L504.87 109.66 L504.62 109.39 L504.37 109.13 L504.12 108.86 L503.87 108.59 L503.62 108.32 L503.39 108.07 L503.15 107.82 L502.92 107.57 L502.69 107.32 L502.45 107.07 L502.22 106.82 L501.98 106.57 L501.75 106.32 L501.51 106.07 L501.27 105.82 L501.04 105.57 L500.80 105.32 L500.56 105.07 L500.33 104.82 L500.09 104.57 L499.85 104.32 L499.61 104.07 L499.37 103.82 L499.12 103.55 L498.87 103.29 L498.62 103.03 L498.37 102.77 L498.12 102.51 L497.87 102.25 L497.62 101.99 L497.37 101.73 L497.12 101.47 L496.87 101.22 L496.62 100.96 L496.37 100.70 L496.12 100.44 L495.87 100.19 L495.62 99.93 L495.37 99.67 L495.12 99.42 L494.87 99.16 L494.62 98.91 L494.37 98.65 L494.12 98.40 L493.87 98.14 L493.62 97.89 L493.37 97.64 L493.12 97.38 L492.87 97.13 L492.62 96.88 L492.37 96.63 L492.12 96.37 L491.87 96.12 L491.62 95.87 L491.37 95.62 L491.12 95.37 L490.87 95.12 L490.62 94.87 L490.37 94.62 L490.12 94.37 L489.87 94.12 L489.62 93.87 L489.37 93.63 L489.12 93.38 L488.87 93.13 L488.62 92.88 L488.37 92.64 L488.12 92.39 L487.87 92.14 L487.62 91.90 L487.37 91.65 L487.12 91.41 L486.87 91.16 L486.62 90.92 L486.37 90.67 L486.12 90.43 L485.87 90.19 L485.62 89.94 L485.37 89.70 L485.12 89.46 L484.87 89.21 L484.62 88.97 L484.37 88.73 L484.12 88.49 L483.87 88.25 L483.62 88.01 L483.37 87.77 L483.12 87.53 L482.87 87.29 L482.62 87.05 L482.37 86.81 L482.12 86.57 L481.86 86.32 L481.60 86.07 L481.34 85.82 L481.07 85.57 L480.81 85.32 L480.55 85.07 L480.28 84.82 L480.02 84.57 L479.75 84.32 L479.49 84.07 L479.22 83.82 L478.96 83.57 L478.69 83.32 L478.42 83.07 L478.16 82.82 L477.89 82.57 L477.62 82.32 L477.37 82.09 L477.12 81.85 L476.87 81.62 L476.62 81.39 L476.37 81.16 L476.12 80.92 L475.87 80.69 L475.62 80.46 L475.37 80.23 L475.12 80.00 L474.87 79.77 L474.62 79.54 L474.37 79.31 L474.11 79.07 L473.84 78.82 L473.56 78.57 L473.29 78.32 L473.02 78.07 L472.74 77.82 L472.47 77.57 L472.19 77.32 L471.92 77.07 L471.64 76.82 L471.37 76.57 L471.12 76.35 L470.87 76.12 L470.62 75.90 L470.37 75.67 L470.12 75.45 L469.87 75.22 L469.62 75.00 L469.37 74.77 L469.12 74.55 L468.86 74.32 L468.58 74.07 L468.30 73.82 L468.02 73.57 L467.74 73.32 L467.46 73.07 L467.18 72.82 L466.90 72.57 L466.62 72.33 L466.37 72.11 L466.12 71.89 L465.87 71.66 L465.62 71.44 L465.37 71.23 L465.12 71.01 L464.87 70.79 L464.62 70.57 L464.34 70.32 L464.05 70.07 L463.76 69.82 L463.48 69.57 L463.19 69.32 L462.90 69.07 L462.62 68.83 L462.37 68.61 L462.12 68.39 L461.87 68.18 L461.62 67.96 L461.37 67.75 L461.12 67.53 L460.87 67.32 L460.58 67.07 L460.29 66.82 L460.00 66.57 L459.71 66.32 L459.42 66.07 L459.12 65.82 L458.87 65.60 L458.62 65.39 L458.37 65.18 L458.12 64.97 L457.87 64.76 L457.62 64.54 L457.36 64.32 L457.06 64.07 L456.76 63.82 L456.47 63.57 L456.17 63.32 L455.87 63.07 L455.62 62.86 L455.37 62.65 L455.12 62.44 L454.87 62.23 L454.62 62.02 L454.37 61.82 L454.07 61.57 L453.77 61.32 L453.47 61.07 L453.17 60.82 L452.87 60.57 L452.62 60.36 L452.37 60.16 L452.12 59.95 L451.87 59.75 L451.62 59.54 L451.35 59.32 L451.05 59.07 L450.74 58.82 L450.44 58.57 L450.13 58.32 L449.87 58.11 L449.62 57.90 L449.37 57.70 L449.12 57.50 L448.87 57.30 L448.59 57.07 L448.28 56.82 L447.97 56.57 L447.66 56.32 L447.37 56.08 L447.12 55.88 L446.87 55.68 L446.62 55.48 L446.37 55.28 L446.11 55.07 L445.80 54.82 L445.48 54.57 L445.17 54.32 L444.87 54.08 L444.62 53.88 L444.37 53.68 L444.12 53.49 L443.87 53.29 L443.60 53.07 L443.28 52.82 L442.96 52.57 L442.65 52.32 L442.37 52.10 L442.12 51.91 L441.87 51.71 L441.62 51.51 L441.37 51.32 L441.05 51.07 L440.73 50.82 L440.41 50.57 L440.12 50.34 L439.87 50.15 L439.62 49.95 L439.37 49.76 L439.12 49.57 L438.80 49.32 L438.48 49.07 L438.15 48.82 L437.87 48.60 L437.62 48.41 L437.37 48.22 L437.12 48.02 L436.85 47.82 L436.53 47.57 L436.20 47.32 L435.87 47.07 L435.62 46.88 L435.37 46.69 L435.12 46.50 L434.87 46.31 L434.56 46.07 L434.23 45.82 L433.90 45.57 L433.62 45.36 L433.37 45.17 L433.12 44.99 L432.87 44.80 L432.57 44.57 L432.23 44.32 L431.90 44.07 L431.62 43.86 L431.37 43.67 L431.12 43.49 L430.87 43.30 L430.56 43.07 L430.22 42.82 L429.89 42.57 L429.62 42.37 L429.37 42.19 L429.12 42.00 L428.87 41.82 L428.53 41.57 L428.19 41.32 L427.87 41.08 L427.62 40.90 L427.37 40.71 L427.12 40.53 L426.83 40.32 L426.49 40.07 L426.14 39.82 L425.87 39.62 L425.62 39.44 L425.37 39.26 L425.11 39.07 M80.12 152.42 L80.27 152.82 L80.37 153.07 L80.56 153.57 L80.66 153.82 L80.86 154.32 L80.95 154.57 L81.12 154.99 L81.25 155.32 L81.37 155.62 L81.55 156.07 L81.65 156.32 L81.85 156.82 L81.95 157.07 L82.12 157.49 L82.25 157.82 L82.37 158.11 L82.56 158.57 L82.66 158.82 L82.87 159.32 L82.97 159.57 L83.12 159.93 L83.28 160.32 L83.39 160.57 L83.59 161.07 L83.70 161.32 L83.87 161.72 L84.02 162.07 L84.12 162.32 L84.34 162.82 L84.44 163.07 L84.62 163.48 M100.49 195.57 L100.63 195.82 L100.87 196.24 L101.05 196.57 L101.20 196.82 L101.37 197.13 L101.62 197.57 L101.76 197.82 L101.90 198.07 L102.12 198.45 L102.33 198.82 L102.48 199.07 L102.62 199.32 L102.87 199.76 L103.05 200.07 L103.20 200.32 L103.37 200.62 L103.62 201.05 L103.78 201.32 L103.92 201.57 L104.12 201.91 L104.36 202.32 L104.51 202.57 L104.65 202.82 L104.87 203.19 L105.10 203.57 L105.24 203.82 L105.39 204.07 L105.62 204.45 L105.84 204.82 L105.99 205.07 L106.14 205.32 L106.37 205.71 L106.59 206.07 L106.74 206.32 L106.89 206.57 L107.12 206.95 L107.34 207.32 L107.49 207.57 L107.64 207.82 L107.87 208.19 L108.10 208.57 L108.26 208.82 L108.41 209.07 L108.62 209.41 L108.87 209.82 L109.02 210.07 L109.18 210.32 L109.37 210.63 L109.62 211.03 L109.80 211.32 L109.95 211.57 L110.12 211.84 L110.37 212.23 L110.58 212.57 L110.74 212.82 L110.89 213.07 L111.12 213.43 L111.37 213.82 L111.53 214.07 L111.68 214.32 L111.87 214.61 L112.12 215.01 L112.32 215.32 L112.48 215.57 L112.64 215.82 L112.87 216.18 L113.12 216.57 L113.28 216.82 L113.44 217.07 L113.62 217.34 L113.87 217.73 L114.09 218.07 L114.25 218.32 L114.42 218.57 L114.62 218.88 L114.87 219.26 L115.07 219.57 L115.24 219.82 L115.40 220.07 L115.62 220.40 L115.87 220.78 L116.06 221.07 L116.23 221.32 L116.39 221.57 L116.62 221.91 L116.87 222.29 L117.06 222.57 L117.22 222.82 L117.39 223.07 L117.62 223.41 L117.87 223.78 L118.06 224.07 L118.23 224.32 L118.40 224.57 L118.62 224.89 L118.87 225.26 L119.08 225.57 L119.25 225.82 L119.42 226.07 L119.62 226.36 L119.87 226.73 L120.11 227.07 L120.28 227.32 L120.45 227.57 L120.62 227.82 L120.87 228.18 L121.12 228.54 L121.31 228.82 L121.49 229.07 L121.66 229.32 L121.87 229.62 L122.12 229.98 L122.36 230.32 L122.53 230.57 L122.71 230.82 L122.88 231.07 L123.12 231.41 L123.37 231.76 L123.59 232.07 L123.77 232.32 L123.94 232.57 L124.12 232.82 L124.37 233.17 L124.62 233.52 L124.83 233.82 L125.01 234.07 L125.19 234.32 L125.37 234.57 L125.62 234.92 L125.87 235.27 L126.09 235.57 L126.27 235.82 L126.45 236.07 L126.63 236.32 L126.87 236.65 L127.12 236.99 L127.36 237.32 L127.54 237.57 L127.72 237.82 L127.91 238.07 L128.12 238.36 L128.37 238.70 L128.62 239.04 L128.83 239.32 L129.01 239.57 L129.19 239.82 L129.38 240.07 L129.62 240.39 L129.87 240.73 L130.12 241.07 L130.31 241.32 L130.50 241.57 L130.68 241.82 L130.87 242.07 L131.12 242.40 L131.37 242.74 L131.62 243.07 L131.81 243.32 L132.00 243.57 L132.19 243.82 L132.38 244.07 L132.62 244.39 L132.87 244.72 L133.12 245.05 L133.33 245.32 L133.52 245.57 L133.71 245.82 L133.90 246.07 L134.12 246.36 L134.37 246.68 L134.62 247.01 L134.86 247.32 L135.05 247.57 L135.25 247.82 L135.44 248.07 L135.63 248.32 L135.87 248.62 L136.12 248.95 L136.37 249.27 L136.61 249.57 L136.80 249.82 L137.00 250.07 L137.19 250.32 L137.39 250.57 L137.62 250.86 L137.87 251.18 L138.12 251.50 L138.37 251.81 L138.57 252.07 L138.77 252.32 L138.97 252.57 L139.17 252.82 L139.37 253.07 L139.62 253.39 L139.87 253.70 L140.12 254.01 L140.37 254.32 L140.57 254.57 L140.77 254.82 L140.97 255.07 L141.17 255.32 L141.37 255.57 L141.62 255.88 L141.87 256.19 L142.12 256.49 L142.37 256.80 L142.59 257.07 L142.79 257.32 L143.00 257.57 L143.20 257.82 L143.40 258.07 L143.62 258.33 L143.87 258.64 L144.12 258.94 L144.37 259.25 L144.62 259.55 L144.84 259.82 L145.05 260.07 L145.26 260.32 L145.46 260.57 L145.67 260.82 L145.88 261.07 L146.12 261.36 L146.37 261.66 L146.62 261.96 L146.87 262.26 L147.12 262.56 L147.34 262.82 L147.55 263.07 L147.76 263.32 L147.97 263.57 L148.18 263.82 L148.40 264.07 L148.62 264.34 L148.87 264.63 L149.12 264.93 L149.37 265.22 L149.62 265.51 L149.87 265.81 L150.10 266.07 L150.31 266.32 L150.52 266.57 L150.74 266.82 L150.95 267.07 L151.17 267.32 L151.38 267.57 L151.62 267.85 L151.87 268.14 L152.12 268.42 L152.37 268.71 L152.62 269.00 L152.87 269.29 L153.11 269.57 L153.33 269.82 L153.55 270.07 L153.77 270.32 L153.99 270.57 L154.21 270.82 L154.43 271.07 L154.64 271.32 L154.87 271.58 L155.12 271.86 L155.37 272.14 L155.62 272.43 L155.87 272.71 L156.12 272.99 L156.37 273.27 L156.62 273.55 L156.86 273.82 L157.08 274.07 L157.30 274.32 L157.53 274.57 L157.75 274.82 L157.97 275.07 L158.20 275.32 L158.42 275.57 L158.65 275.82 L158.87 276.07 L159.12 276.34 L159.37 276.62 L159.62 276.90 L159.87 277.17 L160.12 277.45 L160.37 277.72 L160.62 278.00 L160.87 278.27 L161.12 278.55 L161.37 278.82 L161.60 279.07 L161.83 279.32 L162.06 279.57 L162.29 279.82 L162.52 280.07 L162.75 280.32 L162.98 280.57 L163.21 280.82 L163.44 281.07 L163.67 281.32 L163.90 281.57 L164.13 281.82 L164.37 282.07 L164.62 282.34 L164.87 282.61 L165.12 282.88 L165.37 283.15 L165.62 283.41 L165.87 283.68 L166.12 283.95 L166.37 284.21 L166.62 284.48 L166.87 284.74 L167.12 285.01 L167.37 285.27 L167.62 285.54 L167.87 285.80 L168.12 286.06 L168.37 286.32 L168.60 286.57 L168.84 286.82 L169.08 287.07 L169.32 287.32 L169.56 287.57 L169.80 287.82 L170.04 288.07 L170.28 288.32 L170.52 288.57 L170.76 288.82 L171.00 289.07 L171.24 289.32 L171.48 289.57 L171.73 289.82 L171.97 290.07 L172.21 290.32 L172.45 290.57 L172.70 290.82 L172.94 291.07 L173.19 291.32 L173.43 291.57 L173.68 291.82 L173.92 292.07 L174.17 292.32 L174.41 292.57 L174.66 292.82 L174.90 293.07 L175.15 293.32 L175.40 293.57 L175.65 293.82 L175.89 294.07 L176.14 294.32 L176.39 294.57 L176.64 294.82 L176.89 295.07 L177.14 295.32 L177.39 295.57 L177.64 295.82 L177.89 296.07 L178.14 296.32 L178.39 296.57 L178.64 296.82 L178.89 297.07 L179.14 297.32 L179.40 297.57 L179.65 297.82 L179.90 298.07 L180.15 298.32 L180.41 298.57 L180.66 298.82 L180.92 299.07 L181.17 299.32 L181.43 299.57 L181.68 299.82 L181.94 300.07 L182.19 300.32 L182.45 300.57 L182.71 300.82 L182.96 301.07 L183.22 301.32 L183.48 301.57 L183.74 301.82 L184.00 302.07 L184.25 302.32 L184.51 302.57 L184.77 302.82 L185.03 303.07 L185.29 303.32 L185.55 303.57 L185.81 303.82 L186.08 304.07 L186.34 304.32 L186.60 304.57 L186.86 304.82 L187.12 305.07 L187.37 305.30 L187.62 305.54 L187.87 305.78 L188.12 306.01 L188.37 306.25 L188.62 306.49 L188.87 306.72 L189.12 306.96 L189.37 307.19 L189.62 307.43 L189.87 307.66 L190.12 307.90 L190.37 308.13 L190.62 308.37 L190.87 308.60 L191.12 308.83 L191.38 309.07 L191.64 309.32 L191.91 309.57 L192.18 309.82 L192.45 310.07 L192.72 310.32 L192.99 310.57 L193.26 310.82 L193.54 311.07 L193.81 311.32 L194.08 311.57 L194.35 311.82 L194.62 312.07 L194.87 312.29 L195.12 312.52 L195.37 312.75 L195.62 312.98 L195.87 313.21 L196.12 313.43 L196.37 313.66 L196.62 313.89 L196.87 314.11 L197.12 314.34 L197.37 314.57 L197.65 314.82 L197.93 315.07 L198.21 315.32 L198.48 315.57 L198.76 315.82 L199.04 316.07 L199.32 316.32 L199.60 316.57 L199.87 316.81 L200.12 317.03 L200.37 317.26 L200.62 317.48 L200.87 317.70 L201.12 317.92 L201.37 318.14 L201.62 318.37 L201.87 318.59 L202.13 318.82 L202.42 319.07 L202.70 319.32 L202.99 319.57 L203.27 319.82 L203.56 320.07 L203.84 320.32 L204.12 320.56 L204.37 320.78 L204.62 321.00 L204.87 321.22 L205.12 321.43 L205.37 321.65 L205.62 321.87 L205.87 322.09 L206.14 322.32 L206.43 322.57 L206.72 322.82 L207.01 323.07 L207.30 323.32 L207.59 323.57 L207.87 323.81 L208.12 324.02 L208.37 324.24 L208.62 324.45 L208.87 324.67 L209.12 324.88 L209.37 325.09 L209.64 325.32 L209.93 325.57 L210.23 325.82 L210.52 326.07 L210.82 326.32 L211.11 326.57 L211.37 326.79 L211.62 327.00 L211.87 327.21 L212.12 327.42 L212.37 327.63 L212.62 327.84 L212.90 328.07 L213.19 328.32 L213.49 328.57 L213.79 328.82 L214.09 329.07 L214.37 329.30 L214.62 329.51 L214.87 329.72 L215.12 329.92 L215.37 330.13 L215.62 330.34 L215.90 330.57 L216.21 330.82 L216.51 331.07 L216.81 331.32 L217.12 331.57 L217.37 331.78 L217.62 331.98 L217.87 332.19 L218.12 332.39 L218.37 332.59 L218.65 332.82 L218.95 333.07 L219.26 333.32 L219.57 333.57 L219.87 333.81 L220.12 334.02 L220.37 334.22 L220.62 334.42 L220.87 334.62 L221.12 334.82 L221.43 335.07 L221.74 335.32 L222.05 335.57 L222.36 335.82 L222.62 336.03 L222.87 336.23 L223.12 336.43 L223.37 336.62 L223.62 336.82 L223.93 337.07 L224.24 337.32 L224.56 337.57 L224.87 337.82 L225.12 338.01 L225.37 338.21 L225.62 338.41 L225.87 338.60 L226.14 338.82 L226.46 339.07 L226.78 339.32 L227.10 339.57 L227.37 339.78 L227.62 339.98 L227.87 340.17 L228.12 340.37 L228.38 340.57 L228.70 340.82 L229.03 341.07 L229.35 341.32 L229.62 341.53 L229.87 341.72 L230.12 341.92 L230.37 342.11 L230.64 342.32 L230.97 342.57 L231.29 342.82 L231.62 343.07 L231.87 343.26 L232.12 343.45 L232.37 343.64 L232.62 343.83 L232.93 344.07 L233.26 344.32 L233.59 344.57 L233.87 344.78 L234.12 344.97 L234.37 345.16 L234.62 345.35 L234.91 345.57 L235.24 345.82 M264.37 366.30 L264.62 366.46 L264.87 366.63 L265.17 366.82 L265.55 367.07 L265.87 367.28 L266.12 367.44 L266.37 367.60 L266.70 367.82 L267.09 368.07 L267.37 368.25 L267.62 368.41 L267.87 368.57 L268.25 368.82 L268.62 369.05 L268.87 369.22 L269.12 369.38 L269.42 369.57 L269.82 369.82 L270.12 370.01 L270.37 370.17 L270.62 370.33 L271.00 370.57 L271.37 370.81 L271.62 370.97 L271.87 371.12 L272.18 371.32 L272.58 371.57 L272.87 371.75 L273.12 371.91 L273.37 372.07 L273.77 372.32 L274.12 372.54 L274.37 372.69 L274.62 372.85 L274.98 373.07 L275.37 373.31 L275.62 373.47 L275.87 373.62 L276.19 373.82 L276.59 374.07 L276.87 374.24 L277.12 374.40 L277.40 374.57 L277.81 374.82 L278.12 375.01 L278.37 375.16 L278.63 375.32 L279.04 375.57 L279.37 375.77 L279.62 375.92 L279.87 376.08 L280.27 376.32 L280.62 376.53 L280.87 376.68 L281.12 376.83 L281.51 377.07 L281.87 377.28 L282.12 377.43 L282.37 377.58 L282.77 377.82 L283.12 378.03 L283.37 378.18 L283.62 378.33 L284.02 378.57 L284.37 378.78 L284.62 378.92 L284.87 379.07 L285.29 379.32 L285.62 379.51 L285.87 379.66 L286.14 379.82 L286.56 380.07 L286.87 380.25 L287.12 380.40 L287.42 380.57 L287.85 380.82 L288.12 380.98 L288.37 381.12 L288.71 381.32 L289.12 381.56 L289.37 381.70 L289.62 381.85 L290.00 382.07 L290.37 382.28 L290.62 382.42 L290.87 382.57 L291.31 382.82 L291.62 383.00 L291.87 383.14 L292.19 383.32 L292.62 383.57 L292.87 383.71 L293.12 383.85 L293.51 384.07 L293.87 384.27 L294.12 384.42 L294.39 384.57 L294.84 384.82 L295.12 384.98 L295.37 385.12 L295.73 385.32 L296.12 385.54 L296.37 385.68 L296.63 385.82 L297.08 386.07 L297.37 386.23 L297.62 386.37 L297.98 386.57 L298.37 386.79 L298.62 386.92 L298.89 387.07 L299.34 387.32 L299.62 387.47 L299.87 387.61 L300.26 387.82 L300.62 388.02 L300.87 388.15 L301.17 388.32 L301.62 388.56 L301.87 388.70 L302.12 388.83 L302.56 389.07 L302.87 389.24 L303.12 389.37 L303.49 389.57 L303.87 389.77 L304.12 389.91 L304.43 390.07 L304.87 390.31 L305.12 390.44 L305.37 390.57 L305.84 390.82 L306.12 390.97 L306.37 391.10 L306.78 391.32 L307.12 391.50 L307.37 391.63 L307.74 391.82 L308.12 392.02 L308.37 392.15 L308.69 392.32 L309.12 392.54 L309.37 392.67 L309.65 392.82 L310.12 393.06 L310.37 393.19 L310.62 393.32 L311.11 393.57 L311.37 393.70 L311.62 393.83 L312.08 394.07 L312.37 394.22 L312.62 394.34 L313.06 394.57 L313.37 394.73 L313.62 394.85 L314.05 395.07 L314.37 395.23 L314.62 395.36 L315.04 395.57 L315.37 395.73 L315.62 395.86 L316.04 396.07 L316.37 396.24 L316.62 396.36 L317.04 396.57 L317.37 396.73 L317.62 396.86 L318.05 397.07 L318.37 397.23 L318.62 397.35 L319.07 397.57 L319.37 397.72 L319.62 397.84 L320.09 398.07 L320.37 398.21 L320.62 398.33 L321.12 398.57 L321.37 398.69 L321.63 398.82 L322.12 399.06 L322.37 399.18 L322.67 399.32 L323.12 399.54 L323.37 399.66 L323.71 399.82 L324.12 400.01 L324.37 400.13 L324.76 400.32 L325.12 400.49 L325.37 400.61 L325.82 400.82 L326.12 400.96 L326.37 401.08 L326.87 401.31 L327.12 401.43 L327.42 401.57 L327.87 401.78 L328.12 401.90 L328.49 402.07 L328.87 402.25 L329.12 402.36 L329.57 402.57 L329.87 402.71 L330.12 402.82 L330.62 403.05 L330.87 403.17 L331.21 403.32 L331.62 403.51 L331.87 403.62 L332.31 403.82 L332.62 403.96 L332.87 404.07 L333.37 404.30 L333.62 404.41 L333.97 404.57 L334.37 404.75 L334.62 404.86 L335.09 405.07 L335.37 405.19 L335.66 405.32 L336.12 405.53 L336.37 405.64 L336.79 405.82 L337.12 405.97 L337.37 406.08 L337.87 406.29 L338.12 406.40 L338.50 406.57 L338.87 406.73 L339.12 406.84 L339.62 407.05 L339.87 407.16 L340.24 407.32 L340.62 407.49 L340.87 407.59 L341.37 407.81 L341.62 407.91 L341.99 408.07 L342.37 408.23 L342.62 408.34 L343.12 408.55 L343.37 408.65 L343.76 408.82 L344.12 408.97 L344.37 409.07 L344.87 409.28 L345.12 409.39 L345.56 409.57 L345.87 409.70 L346.16 409.82 L346.62 410.01 L346.87 410.11 L347.37 410.32 L347.62 410.42 L347.99 410.57 L348.37 410.72 L348.62 410.83 L349.12 411.03 L349.37 411.13 L349.84 411.32 L350.12 411.43 L350.46 411.57 L350.87 411.73 L351.12 411.83 L351.62 412.03 L351.87 412.13 L352.35 412.32 L352.62 412.43 L352.98 412.57 L353.37 412.72 L353.62 412.82 L354.12 413.02 L354.37 413.11 L354.87 413.31 L355.12 413.40 L355.55 413.57 L355.87 413.69 L356.20 413.82 L356.62 413.98 L356.87 414.08 L357.37 414.27 L357.62 414.36 L358.12 414.55 L358.37 414.65 L358.83 414.82 L359.12 414.93 L359.49 415.07 L359.87 415.21 L360.16 415.32 L360.62 415.49 L360.87 415.58 L361.37 415.77 L361.62 415.86 L362.12 416.04 L362.37 416.14 L362.87 416.32 L363.12 416.41 L363.56 416.57 L363.87 416.68 L364.25 416.82 L364.62 416.95 L364.95 417.07 L365.37 417.22 L365.65 417.32 L366.12 417.49 L366.37 417.58 L366.87 417.75 L367.12 417.84 L367.62 418.02 L367.87 418.11 L368.37 418.28 L368.62 418.37 L369.12 418.54 L369.37 418.63 L369.87 418.80 L370.12 418.89 L370.62 419.06 L370.87 419.14 L371.37 419.31 L371.62 419.40 L372.12 419.57 L372.37 419.65 L372.87 419.82 L373.12 419.90 L373.62 420.07 L373.87 420.15 L374.37 420.32 L374.62 420.40 L375.12 420.57 L375.37 420.65 L375.87 420.81 L376.12 420.89 L376.62 421.06 L376.87 421.14 L377.37 421.30 L377.62 421.38 L378.12 421.54 L378.37 421.62 L378.87 421.78 L379.12 421.86 L379.62 422.02 L379.87 422.09 L380.37 422.25 L380.62 422.33 L381.12 422.48 L381.40 422.57 L381.87 422.72 L382.21 422.82 L382.62 422.95 L383.02 423.07 L383.37 423.18 L383.84 423.32 L384.12 423.40 L384.62 423.55 L384.87 423.63 L385.37 423.78 L385.62 423.85 L386.12 424.00 L386.37 424.07 L386.87 424.22 L387.21 424.32 L387.62 424.44 L388.07 424.57 L388.37 424.66 L388.87 424.80 L389.12 424.87 L389.62 425.02 L389.87 425.09 L390.37 425.23 L390.69 425.32 L391.12 425.44 L391.58 425.57 L391.87 425.65 L392.37 425.79 L392.62 425.86 L393.12 425.99 L393.39 426.07 L393.87 426.20 L394.31 426.32 L394.62 426.40 L395.12 426.54 L395.37 426.60 L395.87 426.74 L396.18 426.82 L396.62 426.94 L397.12 427.07 L397.37 427.13 L397.87 427.26 L398.12 427.33 L398.62 427.46 L399.07 427.57 L399.37 427.65 L399.87 427.77 L400.12 427.84 L400.62 427.96 L401.05 428.07 L401.37 428.15 L401.87 428.27 L402.12 428.34 L402.62 428.46 L403.08 428.57 L403.37 428.64 L403.87 428.76 L404.12 428.82 L404.62 428.94 L405.12 429.06 L405.37 429.12 L405.87 429.24 L406.23 429.32 L406.62 429.41 L407.12 429.53 L407.37 429.58 L407.87 429.70 L408.37 429.81 L408.62 429.87 L409.12 429.98 L409.52 430.07 L409.87 430.15 L410.37 430.26 L410.66 430.32 L411.12 430.42 L411.62 430.53 L411.87 430.58 L412.37 430.69 L412.87 430.80 L413.12 430.85 L413.62 430.95 L414.12 431.06 L414.37 431.11 L414.87 431.21 L415.37 431.31 L415.62 431.36 L416.12 431.47 L416.62 431.57 L416.87 431.62 L417.37 431.71 L417.87 431.81 L418.12 431.86 L418.62 431.96 L419.12 432.05 L419.37 432.10 L419.87 432.19 L420.37 432.29 L420.62 432.33 L421.12 432.43 L421.62 432.52 L421.90 432.57 L422.37 432.65 L422.87 432.74 L423.30 432.82 L423.62 432.88 L424.12 432.96 L424.62 433.05 L424.87 433.09 L425.37 433.18 L425.87 433.26 L426.22 433.32 L426.62 433.39 L427.12 433.47 L427.62 433.55 L427.87 433.59 L428.37 433.67 L428.87 433.75 L429.32 433.82 L429.62 433.87 L430.12 433.94 L430.62 434.02 L430.96 434.07 L431.37 434.13 L431.87 434.21 L432.37 434.28 L432.66 434.32 L433.12 434.39 L433.62 434.46 L434.12 434.53 L434.43 434.57 L434.87 434.63 L435.37 434.70 L435.87 434.76 L436.30 434.82 L436.62 434.86 L437.12 434.93 L437.62 434.99 L438.12 435.05 L438.37 435.08 L438.87 435.14 L439.37 435.21 L439.87 435.26 L440.34 435.32 L440.62 435.35 L441.12 435.41 L441.62 435.46 L442.12 435.52 L442.58 435.57 L442.87 435.60 L443.37 435.65 L443.87 435.71 L444.37 435.76 L444.87 435.81 L445.12 435.83 L445.62 435.88 L446.12 435.93 L446.62 435.97 L447.12 436.02 L447.62 436.07 L447.87 436.09 L448.37 436.13 L448.87 436.17 L449.37 436.21 L449.87 436.26 L450.37 436.29 L450.70 436.32 L451.12 436.35 L451.62 436.39 L452.12 436.42 L452.62 436.46 L453.12 436.49 M488.62 436.16 L489.12 436.12 L489.60 436.07 L489.87 436.04 L490.37 435.99 L490.87 435.94 L491.37 435.89 L491.87 435.83 L492.12 435.81 L492.62 435.75 L493.12 435.69 L493.62 435.63 L494.12 435.57 L494.37 435.54 L494.87 435.48 L495.37 435.41 L495.87 435.35 L496.12 435.32 L496.62 435.25 L497.12 435.18 L497.62 435.11 L497.90 435.07 L498.37 435.00 L498.87 434.93 L499.37 434.85 L499.62 434.81 L500.12 434.74 L500.62 434.66 L501.12 434.58 L501.37 434.54 L501.87 434.45 L502.37 434.37 L502.66 434.32 L503.12 434.24 L503.62 434.15 L504.08 434.07 L504.37 434.02 L504.87 433.93 L505.37 433.83 L505.62 433.79 L506.12 433.69 L506.62 433.59 L506.87 433.54 L507.37 433.44 L507.87 433.34 L508.12 433.29 L508.62 433.19 L509.12 433.08 L509.37 433.03 L509.87 432.92 L510.34 432.82 L510.62 432.76 L511.12 432.65 L511.46 432.57 L511.87 432.48 L512.37 432.36 L512.62 432.30 L513.12 432.18 L513.59 432.07 L513.87 432.00 L514.37 431.88 L514.62 431.82 L515.12 431.69 L515.60 431.57 L515.87 431.50 L516.37 431.37 L516.62 431.31 L517.12 431.17 L517.51 431.07 L517.87 430.97 L518.37 430.83 L518.62 430.77 L519.12 430.63 L519.37 430.56 L519.87 430.41 L520.19 430.32 L520.62 430.20 L521.05 430.07 L521.37 429.97 L521.87 429.82 L522.12 429.75 L522.62 429.59 L522.87 429.52 L523.37 429.36 L523.62 429.28 L524.12 429.12 L524.37 429.04 L524.87 428.88 L525.12 428.80 L525.62 428.64 L525.87 428.55 L526.37 428.38 L526.62 428.30 L527.12 428.13 L527.37 428.04 L527.87 427.87 L528.12 427.78 L528.62 427.60 L528.87 427.51 L529.37 427.33 L529.62 427.24 L530.08 427.07 L530.37 426.96 L530.75 426.82 L531.12 426.68 L531.42 426.57 L531.87 426.40 L532.12 426.30 L532.62 426.10 L532.87 426.01 L533.34 425.82 L533.62 425.71 L533.96 425.57 L534.37 425.40 L534.62 425.30 L535.12 425.09 L535.37 424.99 L535.77 424.82 L536.12 424.67 L536.37 424.56 L536.87 424.35 L537.12 424.24 L537.51 424.07 L537.87 423.91 L538.12 423.80 L538.62 423.58 L538.87 423.46 L539.18 423.32 L539.62 423.12 L539.87 423.00 L540.26 422.82 L540.62 422.65 L540.87 422.53 L541.32 422.32 L541.62 422.17 L541.87 422.05 L542.35 421.82 L542.62 421.69 L542.87 421.56 L543.36 421.32 L543.62 421.19 L543.87 421.06 L544.34 420.82 L544.62 420.68 L544.87 420.55 L545.30 420.32 L545.62 420.15 L545.87 420.02 L546.24 419.82 L546.62 419.62 L546.87 419.48 L547.17 419.32 L547.62 419.07 L547.87 418.93 L548.12 418.79 L548.52 418.57 L548.87 418.37 L549.12 418.23 L549.39 418.07 L549.83 417.82 L550.12 417.65 L550.37 417.50 L550.68 417.32 L551.10 417.07 L551.37 416.91 L551.62 416.76 L551.92 416.57 L552.33 416.32 L552.62 416.14 L552.87 415.99 L553.14 415.82 L553.53 415.57 L553.87 415.36 L554.12 415.20 L554.37 415.04 L554.70 414.82 L555.09 414.57 L555.37 414.38 L555.62 414.22 L555.87 414.05 L556.22 413.82"/>
<path stroke="#2e87f7" stroke-opacity="0.75" d="M556.37 102.86 L556.12 102.57 L555.90 102.32 L555.68 102.07 L555.46 101.82 L555.24 101.57 L555.02 101.32 L554.80 101.07 L554.58 100.82 L554.36 100.57 L554.12 100.30 L553.87 100.02 L553.62 99.74 L553.37 99.46 L553.12 99.17 L552.87 98.89 L552.62 98.61 L552.37 98.33 L552.14 98.07 L551.91 97.82 L551.69 97.57 L551.47 97.32 L551.24 97.07 L551.02 96.82 L550.79 96.57 L550.57 96.32 L550.34 96.07 L550.12 95.82 L549.87 95.55 M525.12 69.64 L524.87 69.39 L524.62 69.14 L524.37 68.90 L524.12 68.65 L523.87 68.40 L523.62 68.16 L523.37 67.91 L523.12 67.66 L522.87 67.42 L522.62 67.17 L522.37 66.93 L522.12 66.68 L521.87 66.44 L521.62 66.20 L521.37 65.95 L521.12 65.71 L520.87 65.46 L520.62 65.22 L520.37 64.98 L520.12 64.74 L519.87 64.49 L519.62 64.25 L519.37 64.01 L519.12 63.77 L518.87 63.53 L518.62 63.29 L518.37 63.05 L518.12 62.80 L517.87 62.56 L517.62 62.32 L517.35 62.07 L517.09 61.82 L516.83 61.57 L516.57 61.32 L516.31 61.07 L516.05 60.82 L515.78 60.57 L515.52 60.32 L515.26 60.07 L515.00 59.82 L514.73 59.57 L514.47 59.32 L514.20 59.07 L513.94 58.82 L513.68 58.57 L513.41 58.32 L513.15 58.07 L512.88 57.82 L512.62 57.58 L512.37 57.34 L512.12 57.11 L511.87 56.87 L511.62 56.64 L511.37 56.40 L511.12 56.17 L510.87 55.94 L510.62 55.70 L510.37 55.47 L510.12 55.24 L509.87 55.01 L509.62 54.77 L509.37 54.54 L509.12 54.31 L508.86 54.07 L508.59 53.82 L508.32 53.57 L508.05 53.32 L507.78 53.07 L507.51 52.82 L507.24 52.57 L506.96 52.32 L506.69 52.07 L506.42 51.82 L506.15 51.57 L505.87 51.32 L505.62 51.09 L505.37 50.86 L505.12 50.63 L504.87 50.41 L504.62 50.18 L504.37 49.95 L504.12 49.72 L503.87 49.50 L503.62 49.27 L503.37 49.04 L503.12 48.82 L502.85 48.57 L502.57 48.32 L502.29 48.07 L502.01 47.82 L501.74 47.57 L501.46 47.32 L501.18 47.07 L500.90 46.82 L500.62 46.57 L500.37 46.34 L500.12 46.12 L499.87 45.90 L499.62 45.67 L499.37 45.45 L499.12 45.23 L498.87 45.01 L498.62 44.78 L498.37 44.56 L498.10 44.32 L497.81 44.07 L497.53 43.82 L497.25 43.57 L496.97 43.32 L496.68 43.07 L496.40 42.82 L496.12 42.58 L495.87 42.36 L495.62 42.14 L495.37 41.92 L495.12 41.70 L494.87 41.48 L494.62 41.26 L494.37 41.04 L494.12 40.82 L493.83 40.57 L493.54 40.32 L493.25 40.07 L492.97 39.82 L492.68 39.57 L492.39 39.32 L492.12 39.09 M80.12 248.22 L80.37 248.57 L80.56 248.82 L80.74 249.07 L80.93 249.32 L81.12 249.58 L81.37 249.92 L81.62 250.26 L81.85 250.57 L82.03 250.82 L82.22 251.07 L82.41 251.32 L82.62 251.61 L82.87 251.94 L83.12 252.28 L83.34 252.57 L83.52 252.82 L83.71 253.07 L83.90 253.32 L84.12 253.61 L84.37 253.95 L84.62 254.28 L84.84 254.57 L85.03 254.82 L85.22 255.07 L85.41 255.32 L85.62 255.60 L85.87 255.93 L86.12 256.26 L86.36 256.57 L86.55 256.82 L86.74 257.07 L86.93 257.32 L87.12 257.57 L87.37 257.90 M110.12 285.78 L110.37 286.07 L110.59 286.32 L110.80 286.57 L111.02 286.82 L111.24 287.07 L111.46 287.32 L111.68 287.57 L111.89 287.82 L112.12 288.08 L112.37 288.36 L112.62 288.65 L112.87 288.93 L113.12 289.22 L113.37 289.50 L113.62 289.78 L113.87 290.07 L114.09 290.32 L114.31 290.57 L114.54 290.82 L114.76 291.07 L114.98 291.32 L115.20 291.57 L115.42 291.82 L115.65 292.07 L115.87 292.32 L116.12 292.60 L116.37 292.88 L116.62 293.16 L116.87 293.44 L117.12 293.72 L117.37 294.00 L117.62 294.28 L117.87 294.55 L118.11 294.82 L118.33 295.07 L118.56 295.32 L118.79 295.57 L119.01 295.82 L119.24 296.07 L119.47 296.32 L119.69 296.57 L119.92 296.82 L120.15 297.07 L120.37 297.32 L120.62 297.59 L120.87 297.86 L121.12 298.14 L121.37 298.41 L121.62 298.68 L121.87 298.96 L122.12 299.23 L122.37 299.50 L122.62 299.77 L122.87 300.04 L123.12 300.31 L123.36 300.57 L123.59 300.82 L123.82 301.07 L124.05 301.32 L124.28 301.57 L124.51 301.82 L124.75 302.07 L124.98 302.32 L125.21 302.57 L125.44 302.82 L125.68 303.07 L125.91 303.32 L126.15 303.57 L126.38 303.82 L126.62 304.08 L126.87 304.34 L127.12 304.61 L127.37 304.88 L127.62 305.14 L127.87 305.41 L128.12 305.67 L128.37 305.94 L128.62 306.20 L128.87 306.46 L129.12 306.73 L129.37 306.99 L129.62 307.25 L129.87 307.52 L130.12 307.78 L130.37 308.04 L130.62 308.30 L130.87 308.57 L131.11 308.82 L131.35 309.07 L131.59 309.32 L131.83 309.57 L132.07 309.82 L132.31 310.07 L132.55 310.32 L132.80 310.57 L133.04 310.82 L133.28 311.07 L133.52 311.32 L133.76 311.57 L134.00 311.82 L134.25 312.07 L134.49 312.32 L134.73 312.57 L134.98 312.82 L135.22 313.07 L135.46 313.32 L135.71 313.57 L135.95 313.82 L136.20 314.07 L136.44 314.32 L136.69 314.57 L136.93 314.82 L137.18 315.07 L137.42 315.32 L137.67 315.57 L137.92 315.82 L138.16 316.07 L138.41 316.32 L138.66 316.57 L138.90 316.82 L139.15 317.07 L139.40 317.32 L139.65 317.57 L139.90 317.82 L140.15 318.07 L140.39 318.32 L140.64 318.57 L140.89 318.82 L141.14 319.07 L141.39 319.32 L141.64 319.57 L141.89 319.82 L142.15 320.07 L142.40 320.32 L142.65 320.57 L142.90 320.82 L143.15 321.07 L143.41 321.32 L143.66 321.57 L143.91 321.82 L144.16 322.07 L144.42 322.32 L144.67 322.57 L144.92 322.82 L145.18 323.07 L145.43 323.32 L145.69 323.57 L145.94 323.82 L146.20 324.07 L146.45 324.32 L146.71 324.57 L146.97 324.82 L147.22 325.07 L147.48 325.32 L147.74 325.57 L147.99 325.82 L148.25 326.07 L148.51 326.32 L148.77 326.57 L149.03 326.82 L149.29 327.07 L149.54 327.32 L149.80 327.57 L150.06 327.82 L150.32 328.07 L150.58 328.32 L150.84 328.57 L151.10 328.82 L151.37 329.07 L151.62 329.31 L151.87 329.55 L152.12 329.79 L152.37 330.03 L152.62 330.27 L152.87 330.51 L153.12 330.74 L153.37 330.98 L153.62 331.22 L153.87 331.46 L154.12 331.69 L154.37 331.93 L154.62 332.16 L154.87 332.40 L155.12 332.64 L155.37 332.87 L155.62 333.11 L155.87 333.34 L156.12 333.58 L156.38 333.82 L156.65 334.07 L156.91 334.32 L157.18 334.57 L157.45 334.82 L157.72 335.07 L157.98 335.32 L158.25 335.57 L158.52 335.82 L158.79 336.07 L159.06 336.32 L159.33 336.57 L159.60 336.82 L159.87 337.07 L160.12 337.30 L160.37 337.53 L160.62 337.76 L160.87 337.99 L161.12 338.22 L161.37 338.45 L161.62 338.68 L161.87 338.91 L162.12 339.14 L162.37 339.37 L162.62 339.60 L162.87 339.83 L163.14 340.07 L163.41 340.32 L163.69 340.57 L163.96 340.82 L164.24 341.07 L164.51 341.32 L164.79 341.57 L165.06 341.82 L165.34 342.07 L165.62 342.32 L165.87 342.55 L166.12 342.77 L166.37 343.00 L166.62 343.22 L166.87 343.45 L167.12 343.67 L167.37 343.90 L167.62 344.12 L167.87 344.35 L168.12 344.57 L168.40 344.82 L168.68 345.07 L168.96 345.32 L169.24 345.57 L169.52 345.82 L169.80 346.07 L170.09 346.32 L170.37 346.57 L170.62 346.79 L170.87 347.01 L171.12 347.24 L171.37 347.46 L171.62 347.68 L171.87 347.90 L172.12 348.12 L172.37 348.34 L172.63 348.57 L172.92 348.82 L173.21 349.07 L173.49 349.32 L173.78 349.57 L174.06 349.82 L174.35 350.07 L174.62 350.31 L174.87 350.52 L175.12 350.74 L175.37 350.96 L175.62 351.18 L175.87 351.39 L176.12 351.61 L176.37 351.83 L176.65 352.07 L176.94 352.32 L177.23 352.57 L177.52 352.82 L177.81 353.07 L178.10 353.32 L178.37 353.55 L178.62 353.76 L178.87 353.98 L179.12 354.19 L179.37 354.41 L179.62 354.62 L179.87 354.83 L180.15 355.07 L180.44 355.32 L180.74 355.57 L181.03 355.82 L181.32 356.07 L181.62 356.32 L181.87 356.53 L182.12 356.74 L182.37 356.96 L182.62 357.17 L182.87 357.38 L183.12 357.59 L183.39 357.82 L183.69 358.07 L183.99 358.32 L184.29 358.57 L184.59 358.82 L184.87 359.06 L185.12 359.27 L185.37 359.48 L185.62 359.68 L185.87 359.89 L186.12 360.10 L186.38 360.32 L186.68 360.57 L186.98 360.82 L187.29 361.07 L187.59 361.32 L187.87 361.55 L188.12 361.76 L188.37 361.97 L188.62 362.17 L188.87 362.38 L189.12 362.59 L189.41 362.82 L189.71 363.07 L190.01 363.32 L190.32 363.57 L190.62 363.82 L190.87 364.02 L191.12 364.23 L191.37 364.43 L191.62 364.63 L191.87 364.84 L192.16 365.07 L192.46 365.32 L192.77 365.57 L193.08 365.82 L193.37 366.05 L193.62 366.26 L193.87 366.46 L194.12 366.66 L194.37 366.86 L194.63 367.07 L194.94 367.32 L195.25 367.57 L195.56 367.82 L195.87 368.07 L196.12 368.27 L196.37 368.47 L196.62 368.67 L196.87 368.87 L197.12 369.07 L197.43 369.32 L197.75 369.57 L198.06 369.82 L198.37 370.06 L198.62 370.26 L198.87 370.46 L199.12 370.66 L199.37 370.86 L199.64 371.07 L199.96 371.32 L200.27 371.57 L200.59 371.82 L200.87 372.04 L201.12 372.24 L201.37 372.43 L201.62 372.63 L201.87 372.83 L202.18 373.07 L202.50 373.32 L202.82 373.57 L203.12 373.80 L203.37 374.00 L203.62 374.19 L203.87 374.39 L204.12 374.58 L204.43 374.82 L204.75 375.07 L205.07 375.32 L205.37 375.55 L205.62 375.74 L205.87 375.94 L206.12 376.13 L206.37 376.32 L206.69 376.57 L207.02 376.82 L207.34 377.07 L207.62 377.28 L207.87 377.47 L208.12 377.66 L208.37 377.85 L208.65 378.07 L208.98 378.32 L209.31 378.57 L209.62 378.81 L209.87 379.00 L210.12 379.19 L210.37 379.38 L210.62 379.57 L210.95 379.82 L211.28 380.07 L211.62 380.32 L211.87 380.51 L212.12 380.70 L212.37 380.89 L212.62 381.08 L212.94 381.32 L213.28 381.57 L213.61 381.82 L213.87 382.01 L214.12 382.20 L214.37 382.39 L214.62 382.57 L214.95 382.82 L215.29 383.07 L215.62 383.32 L215.87 383.50 L216.12 383.69 L216.37 383.88 L216.63 384.07 L216.97 384.32 L217.31 384.57 L217.62 384.80 L217.87 384.98 L218.12 385.17 L218.37 385.35 L218.67 385.57 L219.01 385.82 L219.35 386.07 L219.62 386.27 L219.87 386.45 L220.12 386.63 L220.37 386.82 L220.72 387.07 L221.06 387.32 L221.37 387.55 L221.62 387.73 L221.87 387.91 L222.12 388.09 L222.44 388.32 L222.78 388.57 L223.12 388.81 L223.37 388.99 L223.62 389.17 L223.87 389.35 L224.17 389.57 L224.52 389.82 L224.87 390.07 L225.12 390.25 L225.37 390.43 L225.62 390.61 L225.91 390.82 L226.26 391.07 L226.62 391.32 L226.87 391.50 L227.12 391.68 L227.37 391.86 L227.67 392.07 L228.02 392.32 L228.37 392.57 L228.62 392.74 L228.87 392.92 L229.12 393.10 L229.44 393.32 L229.79 393.57 L230.12 393.80 L230.37 393.98 L230.62 394.15 L230.87 394.33 L231.22 394.57 L231.58 394.82 L231.87 395.03 L232.12 395.20 L232.37 395.37 L232.65 395.57 L233.01 395.82 L233.37 396.07 L233.62 396.24 L233.87 396.42 L234.12 396.59 L234.45 396.82 L234.82 397.07 L235.12 397.28 L235.37 397.45 L235.62 397.62 L235.90 397.82 L236.27 398.07 L236.62 398.31 L236.87 398.48 L237.12 398.65 L237.37 398.82 L237.73 399.07 L238.10 399.32 L238.37 399.51 L238.62 399.68 L238.87 399.85 L239.20 400.07 L239.57 400.32 L239.87 400.52 L240.12 400.69 L240.37 400.86 L240.68 401.07 L241.05 401.32 L241.37 401.54 L241.62 401.70 L241.87 401.87 L242.16 402.07 L242.54 402.32 L242.87 402.54 L243.12 402.71 L243.37 402.88 L243.66 403.07 L244.04 403.32 L244.37 403.54 L244.62 403.71 L244.87 403.87 L245.16 404.07 L245.54 404.32 L245.87 404.54 L246.12 404.70 L246.37 404.87 L246.68 405.07 L247.06 405.32 L247.37 405.53 L247.62 405.69 L247.87 405.85 L248.20 406.07 L248.58 406.32 L248.87 406.51 L249.12 406.67 L249.37 406.83 L249.73 407.07 L250.12 407.32 L250.37 407.49 L250.62 407.65 L250.89 407.82 L251.27 408.07 L251.62 408.29 L251.87 408.46 L252.12 408.62 L252.43 408.82 L252.82 409.07 L253.12 409.26 L253.37 409.42 L253.62 409.58 L253.99 409.82 L254.37 410.06 L254.62 410.22 L254.87 410.38 L255.17 410.57 L255.56 410.82 L255.87 411.02 L256.12 411.18 L256.37 411.34 L256.74 411.57 L257.12 411.81 L257.37 411.97 L257.62 412.13 L257.93 412.32 L258.33 412.57 L258.62 412.76 L258.87 412.91 L259.12 413.07 L259.52 413.32 L259.87 413.54 L260.12 413.69 L260.37 413.85 L260.72 414.07 L261.12 414.32 L261.37 414.47 L261.62 414.63 L261.93 414.82 L262.33 415.07 L262.62 415.25 L262.87 415.40 L263.14 415.57 L263.55 415.82 L263.87 416.02 L264.12 416.17 L264.37 416.33 L264.77 416.57 L265.12 416.79 M295.87 434.45 L296.12 434.58 L296.56 434.82 L296.87 434.99 L297.12 435.12 L297.49 435.32 L297.87 435.52 L298.12 435.65 L298.43 435.82 L298.87 436.05 L299.12 436.18 L299.38 436.32 L299.85 436.57 L300.12 436.71 L300.37 436.84 L300.80 437.07 L301.12 437.24 L301.37 437.37 L301.75 437.57 L302.12 437.76 L302.37 437.89 L302.71 438.07 L303.12 438.28 L303.37 438.41 L303.67 438.57 L304.12 438.80 L304.37 438.93 L304.64 439.07 L305.12 439.32 L305.37 439.45 L305.62 439.58 L306.09 439.82 L306.37 439.96 L306.62 440.09 L307.07 440.32 L307.37 440.47 L307.62 440.60 L308.05 440.82 L308.37 440.98 L308.62 441.11 L309.03 441.32 L309.37 441.49 L309.62 441.62 L310.02 441.82 L310.37 441.99 L310.62 442.12 L311.02 442.32 L311.37 442.50 L311.62 442.62 L312.02 442.82 L312.37 443.00 L312.62 443.12 L313.02 443.32 L313.37 443.49 L313.62 443.62 L314.03 443.82 L314.37 443.99 L314.62 444.11 L315.04 444.32 L315.37 444.48 L315.62 444.60 L316.06 444.82 L316.37 444.97 L316.62 445.09 L317.08 445.32 L317.37 445.46 L317.62 445.58 L318.11 445.82 L318.37 445.94 L318.63 446.07 L319.12 446.31 L319.37 446.43 L319.66 446.57 L320.12 446.79 L320.37 446.91 L320.71 447.07 L321.12 447.27 L321.37 447.39 L321.75 447.57 L322.12 447.74 L322.37 447.86 L322.80 448.07 L323.12 448.22 L323.37 448.34 L323.86 448.57 L324.12 448.69 L324.39 448.82 L324.87 449.04 L325.12 449.16 L325.46 449.32 L325.87 449.51 L326.12 449.63 L326.53 449.82 L326.87 449.98 L327.12 450.09 L327.61 450.32 L327.87 450.44 L328.15 450.57 L328.62 450.79 L328.87 450.90 L329.23 451.07 L329.62 451.25 L329.87 451.36 L330.33 451.57 L330.62 451.70 L330.87 451.82 L331.37 452.05 L331.62 452.16 L331.98 452.32 L332.37 452.50 L332.62 452.61 L333.08 452.82 L333.37 452.95 L333.64 453.07 L334.12 453.29 L334.37 453.40 L334.76 453.57 L335.12 453.73 L335.37 453.84 L335.87 454.07 L336.12 454.18 L336.45 454.32 L336.87 454.51 L337.12 454.62 L337.58 454.82 L337.87 454.95 L338.15 455.07 L338.62 455.28 L338.87 455.39 L339.29 455.57 L339.62 455.71 L339.87 455.82 L340.37 456.04 L340.62 456.15 L341.02 456.32 L341.37 456.47 L341.62 456.58 L342.12 456.79 L342.37 456.90 L342.77 457.07 L343.12 457.22 L343.37 457.33 L343.87 457.54 L344.12 457.65 L344.53 457.82 L344.87 457.96 L345.12 458.07 L345.62 458.28 L345.87 458.39 L346.31 458.57 L346.62 458.70 L346.91 458.82 L347.37 459.01 L347.62 459.12 L348.11 459.32 L348.37 459.43 L348.71 459.57 L349.12 459.74 L349.37 459.84 L349.87 460.05 L350.12 460.15 L350.53 460.32 L350.87 460.46 L351.15 460.57 L351.62 460.76 L351.87 460.86 L352.37 461.07 L352.62 461.17 L352.99 461.32 L353.37 461.47 L353.62 461.57 L354.12 461.77 L354.37 461.87 L354.86 462.07 L355.12 462.17 L355.49 462.32 L355.87 462.47 L356.12 462.57 L356.62 462.77 L356.87 462.87 L357.37 463.06 L357.62 463.16 L358.02 463.32 L358.37 463.46 L358.66 463.57 L359.12 463.75 L359.37 463.85 L359.87 464.04 L360.12 464.14 L360.59 464.32 L360.87 464.43 L361.24 464.57 L361.62 464.71 L361.89 464.82 L362.37 465.00 L362.62 465.10 L363.12 465.29"/>
<path stroke="#12b1d6" stroke-opacity="0.75" d="M556.37 50.74 L556.12 50.49 L555.87 50.25 L555.62 50.00 L555.37 49.75 L555.12 49.50 L554.87 49.25 L554.62 49.01 L554.37 48.76 L554.12 48.51 L553.87 48.27 L553.62 48.02 L553.37 47.78 L553.12 47.53 L552.87 47.28 L552.62 47.04 L552.37 46.79 L552.12 46.55 L551.87 46.30 L551.62 46.06 L551.37 45.82 L551.12 45.57 L550.86 45.32 L550.60 45.07 L550.35 44.82 L550.09 44.57 L549.83 44.32 L549.58 44.07 L549.32 43.82 L549.06 43.57 L548.80 43.32 L548.54 43.07 L548.28 42.82 L548.02 42.57 L547.77 42.32 L547.51 42.07 L547.25 41.82 L546.99 41.57 L546.73 41.32 L546.47 41.07 L546.20 40.82 L545.94 40.57 L545.68 40.32 L545.42 40.07 L545.16 39.82 L544.90 39.57 L544.63 39.32 L544.37 39.07 M80.12 306.33 L80.37 306.61 L80.62 306.89 L80.87 307.17 L81.12 307.45 L81.37 307.74 L81.62 308.02 L81.87 308.30 L82.12 308.57 L82.34 308.82 L82.56 309.07 L82.79 309.32 L83.01 309.57 L83.24 309.82 L83.46 310.07 L83.69 310.32 L83.91 310.57 L84.14 310.82 L84.37 311.08 L84.62 311.36 L84.87 311.63 L85.12 311.91 L85.37 312.18 L85.62 312.46 L85.87 312.73 L86.12 313.01 L86.37 313.28 L86.62 313.56 L86.86 313.82 L87.09 314.07 L87.31 314.32 L87.54 314.57 L87.77 314.82 L88.00 315.07 L88.23 315.32 L88.46 315.57 L88.69 315.82 L88.92 316.07 L89.15 316.32 L89.38 316.57 L89.62 316.83 L89.87 317.10 L90.12 317.37 L90.37 317.64 L90.62 317.91 L90.87 318.18 L91.12 318.45 L91.37 318.72 M116.12 344.13 L116.37 344.37 L116.62 344.62 L116.87 344.86 L117.12 345.11 L117.37 345.35 L117.62 345.59 L117.87 345.84 L118.12 346.08 L118.37 346.32 L118.63 346.57 L118.88 346.82 L119.14 347.07 L119.40 347.32 L119.66 347.57 L119.92 347.82 L120.17 348.07 L120.43 348.32 L120.69 348.57 L120.95 348.82 L121.21 349.07 L121.47 349.32 L121.73 349.57 L121.99 349.82 L122.25 350.07 L122.52 350.32 L122.78 350.57 L123.04 350.82 L123.30 351.07 L123.56 351.32 L123.83 351.57 L124.09 351.82 L124.35 352.07 L124.61 352.32 L124.87 352.56 L125.12 352.80 L125.37 353.04 L125.62 353.27 L125.87 353.51 L126.12 353.75 L126.37 353.98 L126.62 354.22 L126.87 354.45 L127.12 354.69 L127.37 354.93 L127.62 355.16 L127.87 355.39 L128.12 355.63 L128.37 355.86 L128.62 356.10 L128.87 356.33 L129.12 356.57 L129.39 356.82 L129.66 357.07 L129.93 357.32 L130.20 357.57 L130.46 357.82 L130.73 358.07 L131.00 358.32 L131.27 358.57 L131.54 358.82 L131.81 359.07 L132.08 359.32 L132.35 359.57 L132.62 359.82 L132.87 360.05 L133.12 360.28 L133.37 360.51 L133.62 360.74 L133.87 360.97 L134.12 361.20 L134.37 361.43 L134.62 361.66 L134.87 361.89 L135.12 362.12 L135.37 362.34 L135.62 362.57 L135.89 362.82 L136.17 363.07 L136.44 363.32 L136.71 363.57 L136.99 363.82 L137.26 364.07 L137.54 364.32 L137.82 364.57 L138.09 364.82 L138.37 365.07 L138.62 365.30 L138.87 365.52 L139.12 365.75 L139.37 365.98 L139.62 366.20 L139.87 366.43 L140.12 366.65 L140.37 366.88 L140.62 367.10 L140.87 367.32 L141.14 367.57 L141.42 367.82 L141.70 368.07 L141.98 368.32 L142.26 368.57 L142.54 368.82 L142.82 369.07 L143.10 369.32 L143.37 369.56 L143.62 369.78 L143.87 370.00 L144.12 370.22 L144.37 370.45 L144.62 370.67 L144.87 370.89 L145.12 371.11 L145.37 371.33 L145.64 371.57 L145.93 371.82 L146.21 372.07 L146.49 372.32 L146.78 372.57 L147.06 372.82 L147.35 373.07 L147.62 373.31 L147.87 373.53 L148.12 373.75 L148.37 373.97 L148.62 374.18 L148.87 374.40 L149.12 374.62 L149.37 374.84 L149.64 375.07 L149.92 375.32 L150.21 375.57 L150.50 375.82 L150.79 376.07 L151.08 376.32 L151.36 376.57 L151.62 376.79 L151.87 377.01 L152.12 377.22 L152.37 377.44 L152.62 377.65 L152.87 377.87 L153.12 378.08 L153.39 378.32 L153.68 378.57 L153.98 378.82 L154.27 379.07 L154.56 379.32 L154.85 379.57 L155.12 379.80 L155.37 380.01 L155.62 380.23 L155.87 380.44 L156.12 380.65 L156.37 380.86 L156.62 381.08 L156.91 381.32 L157.20 381.57 L157.50 381.82 L157.79 382.07 L158.09 382.32 L158.37 382.56 L158.62 382.77 L158.87 382.98 L159.12 383.19 L159.37 383.40 L159.62 383.61 L159.87 383.82 L160.16 384.07 L160.46 384.32 L160.76 384.57 L161.06 384.82 L161.36 385.07 L161.62 385.29 L161.87 385.50 L162.12 385.71 L162.37 385.92 L162.62 386.13 L162.87 386.33 L163.15 386.57 L163.45 386.82 L163.76 387.07 L164.06 387.32 L164.36 387.57 L164.62 387.79 L164.87 387.99 L165.12 388.20 L165.37 388.41 L165.62 388.61 L165.87 388.82 L166.18 389.07 L166.48 389.32 L166.78 389.57 L167.09 389.82 L167.37 390.05 L167.62 390.26 L167.87 390.46 L168.12 390.66 L168.37 390.87 L168.62 391.07 L168.92 391.32 L169.23 391.57 L169.54 391.82 L169.84 392.07 L170.12 392.29 L170.37 392.50 L170.62 392.70 L170.87 392.90 L171.12 393.11 L171.39 393.32 L171.69 393.57 L172.00 393.82 L172.31 394.07 L172.62 394.32 L172.87 394.52 L173.12 394.72 L173.37 394.92 L173.62 395.12 L173.87 395.32 L174.18 395.57 L174.49 395.82 L174.80 396.07 L175.12 396.32 L175.37 396.52 L175.62 396.72 L175.87 396.92 L176.12 397.12 L176.37 397.32 L176.69 397.57 L177.00 397.82 L177.32 398.07 L177.62 398.31 L177.87 398.51 L178.12 398.71 L178.37 398.90 L178.62 399.10 L178.90 399.32 L179.21 399.57 L179.53 399.82 L179.85 400.07 L180.12 400.28 L180.37 400.48 L180.62 400.68 L180.87 400.87 L181.12 401.07 L181.44 401.32 L181.76 401.57 L182.08 401.82 L182.37 402.04 L182.62 402.24 L182.87 402.43 L183.12 402.63 L183.37 402.82 L183.69 403.07 L184.01 403.32 L184.33 403.57 L184.62 403.79 L184.87 403.99 L185.12 404.18 L185.37 404.37 L185.63 404.57 L185.95 404.82 L186.28 405.07 L186.60 405.32 L186.87 405.53 L187.12 405.72 L187.37 405.91 L187.62 406.10 L187.90 406.32 L188.23 406.57 L188.56 406.82 L188.87 407.06 L189.12 407.25 L189.37 407.44 L189.62 407.63 L189.87 407.82 L190.20 408.07 L190.53 408.32 L190.86 408.57 L191.12 408.77 L191.37 408.96 L191.62 409.15 L191.87 409.34 L192.18 409.57 L192.51 409.82 L192.84 410.07 L193.12 410.28 L193.37 410.47 L193.62 410.65 L193.87 410.84 L194.17 411.07 L194.51 411.32 L194.84 411.57 L195.12 411.78 L195.37 411.97 L195.62 412.15 L195.87 412.34 L196.18 412.57 L196.52 412.82 L196.85 413.07 L197.12 413.27 L197.37 413.45 L197.62 413.64 L197.87 413.82 L198.20 414.07 L198.54 414.32 L198.87 414.56 L199.12 414.75 L199.37 414.93 L199.62 415.12 L199.90 415.32 L200.24 415.57 L200.58 415.82 L200.87 416.04 L201.12 416.22 L201.37 416.40 L201.62 416.58 L201.94 416.82 L202.28 417.07 L202.62 417.32 L202.87 417.50 L203.12 417.68 L203.37 417.86 L203.66 418.07 L204.00 418.32 L204.35 418.57 L204.62 418.77 L204.87 418.95 L205.12 419.13 L205.38 419.32 L205.73 419.57 L206.08 419.82 L206.37 420.03 L206.62 420.21 L206.87 420.39 L207.12 420.57 L207.47 420.82 L207.81 421.07 L208.12 421.29 L208.37 421.47 L208.62 421.65 L208.87 421.82 L209.21 422.07 L209.56 422.32 L209.87 422.54 L210.12 422.72 L210.37 422.89 L210.62 423.07 L210.97 423.32 L211.32 423.57 L211.62 423.78 L211.87 423.96 L212.12 424.13 L212.38 424.32 L212.74 424.57 L213.09 424.82 L213.37 425.01 L213.62 425.19 L213.87 425.37 L214.16 425.57 L214.52 425.82 L214.87 426.07 L215.12 426.24 L215.37 426.42 L215.62 426.59 L215.95 426.82 L216.31 427.07 L216.62 427.29 L216.87 427.46 L217.12 427.64 L217.39 427.82 L217.75 428.07 L218.11 428.32 L218.37 428.50 L218.62 428.68 L218.87 428.85 L219.19 429.07 L219.55 429.32 L219.87 429.54 L220.12 429.71 L220.37 429.88 L220.64 430.07 L221.01 430.32 L221.37 430.57 L221.62 430.74 L221.87 430.91 L222.12 431.08 L222.47 431.32 L222.84 431.57 L223.12 431.76 L223.37 431.93 L223.62 432.10 L223.94 432.32 L224.31 432.57 L224.62 432.78 L224.87 432.95 L225.12 433.12 L225.42 433.32 L225.79 433.57 L226.12 433.79 L226.37 433.96 L226.62 434.13 L226.90 434.32 L227.27 434.57 L227.62 434.80 L227.87 434.97 L228.12 435.14 L228.39 435.32 L228.77 435.57 L229.12 435.81 L229.37 435.97 L229.62 436.14 L229.89 436.32 L230.27 436.57 L230.62 436.80 L230.87 436.97 L231.12 437.14 L231.40 437.32 L231.78 437.57 L232.12 437.80 L232.37 437.96 L232.62 438.13 L232.91 438.32 L233.29 438.57 L233.62 438.79 L233.87 438.95 L234.12 439.11 L234.43 439.32 L234.82 439.57 L235.12 439.77 L235.37 439.93 L235.62 440.10 L235.96 440.32 L236.35 440.57 L236.62 440.75 L236.87 440.91 L237.12 441.07 L237.50 441.32 L237.87 441.56 L238.12 441.72 L238.37 441.88 L238.66 442.07 L239.05 442.32 L239.37 442.53 L239.62 442.69 L239.87 442.85 L240.21 443.07 L240.60 443.32 L240.87 443.49 L241.12 443.65 L241.38 443.82 L241.77 444.07 L242.12 444.29 L242.37 444.45 L242.62 444.61 L242.95 444.82 L243.34 445.07 L243.62 445.25 L243.87 445.40 L244.13 445.57 L244.53 445.82 L244.87 446.04 L245.12 446.20 L245.37 446.35 L245.71 446.57 L246.11 446.82 L246.37 446.98 L246.62 447.14 L246.91 447.32 L247.30 447.57 L247.62 447.77 L247.87 447.92 L248.12 448.08 L248.50 448.32 L248.87 448.55 L249.12 448.70 L249.37 448.86 L249.71 449.07 L250.11 449.32 L250.37 449.48 L250.62 449.64 L250.92 449.82 L251.32 450.07 L251.62 450.26 L251.87 450.41 L252.13 450.57 L252.54 450.82 L252.87 451.03 L253.12 451.18 L253.37 451.33 L253.76 451.57 L254.12 451.79 L254.37 451.95 L254.62 452.10 L254.98 452.32 L255.37 452.56 L255.62 452.71 L255.87 452.86 L256.21 453.07 L256.62 453.32 L256.87 453.47 L257.12 453.62 L257.45 453.82 L257.86 454.07 L258.12 454.22 L258.37 454.38 L258.69 454.57 L259.11 454.82 L259.37 454.98 L259.62 455.13 L259.94 455.32 L260.36 455.57 L260.62 455.73 L260.87 455.88 L261.19 456.07 L261.61 456.32 L261.87 456.47 L262.12 456.62 L262.45 456.82 L262.87 457.07 L263.12 457.22 L263.37 457.36 L263.72 457.57 L264.12 457.81 L264.37 457.96 L264.62 458.10 L264.99 458.32 L265.37 458.54 L265.62 458.69 L265.87 458.84 L266.26 459.07 L266.62 459.28 L266.87 459.42 L267.12 459.57 L267.55 459.82 L267.87 460.01 L268.12 460.15 L268.40 460.32 L268.83 460.57 L269.12 460.74 L269.37 460.88 L269.70 461.07 L270.12 461.31 L270.37 461.46 L270.62 461.60 L271.00 461.82 L271.37 462.04 L271.62 462.18 L271.87 462.32 L272.30 462.57 L272.62 462.75 L272.87 462.90 L273.17 463.07 L273.61 463.32 L273.87 463.47 L274.12 463.61 L274.49 463.82 L274.87 464.04 L275.12 464.18 L275.37 464.32 L275.81 464.57 L276.12 464.75 L276.37 464.89 L276.69 465.07 L277.12 465.31"/>
<path stroke="#37c897" stroke-opacity="0.75" d="M80.12 352.23 L80.37 352.48 L80.62 352.74 L80.87 352.99 L81.12 353.24 L81.37 353.49 L81.62 353.74 L81.87 354.00 L82.12 354.25 L82.37 354.50 L82.62 354.75 L82.87 355.00 L83.12 355.25 L83.37 355.50 L83.62 355.75 L83.87 356.00 L84.12 356.25 L84.37 356.50 L84.62 356.75 L84.87 357.00 L85.12 357.25 L85.37 357.50 L85.62 357.74 L85.87 357.99 L86.12 358.24 L86.37 358.49 L86.62 358.74 L86.87 358.98 L87.12 359.23 L87.37 359.48 L87.62 359.73 L87.87 359.97 L88.12 360.22 L88.37 360.46 L88.62 360.71 L88.87 360.96 L89.12 361.20 L89.37 361.45 L89.62 361.69 L89.87 361.94 L90.12 362.18 M116.09 386.57 L116.36 386.82 L116.62 387.05 L116.87 387.28 L117.12 387.50 L117.37 387.73 L117.62 387.95 L117.87 388.17 L118.12 388.40 L118.37 388.62 L118.62 388.85 L118.87 389.07 L119.15 389.32 L119.43 389.57 L119.71 389.82 L119.99 390.07 L120.27 390.32 L120.55 390.57 L120.84 390.82 L121.12 391.07 L121.37 391.29 L121.62 391.52 L121.87 391.74 L122.12 391.96 L122.37 392.18 L122.62 392.40 L122.87 392.62 L123.12 392.84 L123.38 393.07 L123.66 393.32 L123.95 393.57 L124.23 393.82 L124.51 394.07 L124.80 394.32 L125.08 394.57 L125.37 394.82 L125.62 395.04 L125.87 395.26 L126.12 395.48 L126.37 395.69 L126.62 395.91 L126.87 396.13 L127.12 396.35 L127.37 396.57 L127.66 396.82 L127.95 397.07 L128.24 397.32 L128.52 397.57 L128.81 397.82 L129.10 398.07 L129.37 398.30 L129.62 398.52 L129.87 398.73 L130.12 398.95 L130.37 399.17 L130.62 399.38 L130.87 399.60 L131.13 399.82 L131.42 400.07 L131.71 400.32 L132.00 400.57 L132.29 400.82 L132.58 401.07 L132.87 401.32 L133.12 401.53 L133.37 401.74 L133.62 401.96 L133.87 402.17 L134.12 402.38 L134.37 402.60 L134.63 402.82 L134.93 403.07 L135.22 403.32 L135.51 403.57 L135.81 403.82 L136.10 404.07 L136.37 404.30 L136.62 404.51 L136.87 404.72 L137.12 404.93 L137.37 405.14 L137.62 405.35 L137.88 405.57 L138.17 405.82 L138.47 406.07 L138.77 406.32 L139.07 406.57 L139.36 406.82 L139.62 407.04 L139.87 407.25 L140.12 407.46 L140.37 407.66 L140.62 407.87 L140.87 408.08 L141.15 408.32 L141.45 408.57 L141.75 408.82 L142.05 409.07 L142.35 409.32 L142.62 409.54 L142.87 409.75 L143.12 409.96 L143.37 410.16 L143.62 410.37 L143.87 410.58 L144.16 410.82 L144.46 411.07 L144.77 411.32 L145.07 411.57 L145.37 411.82 L145.62 412.02 L145.87 412.23 L146.12 412.44 L146.37 412.64 L146.62 412.85 L146.89 413.07 L147.20 413.32 L147.50 413.57 L147.81 413.82 L148.11 414.07 L148.37 414.28 L148.62 414.49 L148.87 414.69 L149.12 414.89 L149.37 415.10 L149.64 415.32 L149.95 415.57 L150.26 415.82 L150.57 416.07 L150.87 416.32 L151.12 416.52 L151.37 416.72 L151.62 416.92 L151.87 417.13 L152.12 417.33 L152.42 417.57 L152.73 417.82 L153.04 418.07 L153.35 418.32 L153.62 418.54 L153.87 418.74 L154.12 418.94 L154.37 419.14 L154.62 419.34 L154.91 419.57 L155.22 419.82 L155.53 420.07 L155.84 420.32 L156.12 420.54 L156.37 420.74 L156.62 420.94 L156.87 421.14 L157.12 421.34 L157.41 421.57 L157.72 421.82 L158.04 422.07 L158.35 422.32 L158.62 422.53 L158.87 422.73 L159.12 422.93 L159.37 423.12 L159.62 423.32 L159.93 423.57 L160.25 423.82 L160.57 424.07 L160.87 424.31 L161.12 424.50 L161.37 424.70 L161.62 424.90 L161.87 425.09 L162.16 425.32 L162.48 425.57 L162.80 425.82 L163.12 426.07 L163.37 426.27 L163.62 426.46 L163.87 426.66 L164.12 426.85 L164.40 427.07 L164.72 427.32 L165.04 427.57 L165.36 427.82 L165.62 428.02 L165.87 428.22 L166.12 428.41 L166.37 428.60 L166.65 428.82 L166.97 429.07 L167.30 429.32 L167.62 429.57 L167.87 429.76 L168.12 429.96 L168.37 430.15 L168.62 430.34 L168.92 430.57 L169.24 430.82 L169.57 431.07 L169.87 431.30 L170.12 431.49 L170.37 431.68 L170.62 431.87 L170.88 432.07 L171.20 432.32 L171.53 432.57 L171.86 432.82 L172.12 433.02 L172.37 433.21 L172.62 433.40 L172.87 433.59 L173.17 433.82 L173.50 434.07 L173.83 434.32 L174.12 434.54 L174.37 434.73 L174.62 434.92 L174.87 435.11 L175.15 435.32 L175.49 435.57 L175.82 435.82 L176.12 436.05 L176.37 436.24 L176.62 436.42 L176.87 436.61 L177.15 436.82 L177.48 437.07 L177.82 437.32 L178.12 437.55 L178.37 437.74 L178.62 437.92 L178.87 438.11 L179.15 438.32 L179.49 438.57 L179.82 438.82 L180.12 439.04 L180.37 439.23 L180.62 439.41 L180.87 439.60 L181.17 439.82 L181.51 440.07 L181.85 440.32 L182.12 440.52 L182.37 440.71 L182.62 440.89 L182.87 441.08 L183.20 441.32 L183.54 441.57 L183.87 441.81 L184.12 442.00 L184.37 442.18 L184.62 442.36 L184.90 442.57 L185.24 442.82 L185.58 443.07 L185.87 443.28 L186.12 443.46 L186.37 443.65 L186.62 443.83 L186.95 444.07 L187.30 444.32 L187.62 444.56 L187.87 444.74 L188.12 444.92 L188.37 445.10 L188.67 445.32 L189.02 445.57 L189.36 445.82 L189.62 446.01 L189.87 446.19 L190.12 446.37 L190.40 446.57 L190.75 446.82 L191.09 447.07 L191.37 447.27 L191.62 447.45 L191.87 447.63 L192.14 447.82 L192.49 448.07 L192.83 448.32 L193.12 448.52 L193.37 448.70 L193.62 448.88 L193.88 449.07 L194.23 449.32 L194.58 449.57 L194.87 449.77 L195.12 449.95 L195.37 450.13 L195.64 450.32 L195.99 450.57 L196.34 450.82 L196.62 451.02 L196.87 451.19 L197.12 451.37 L197.40 451.57 L197.76 451.82 L198.11 452.07 L198.37 452.25 L198.62 452.43 L198.87 452.60 L199.18 452.82 L199.53 453.07 L199.87 453.31 L200.12 453.48 L200.37 453.66 L200.62 453.83 L200.96 454.07 L201.32 454.32 L201.62 454.53 L201.87 454.70 L202.12 454.88 L202.39 455.07 L202.75 455.32 L203.11 455.57 L203.37 455.75 L203.62 455.92 L203.87 456.09 L204.20 456.32 L204.56 456.57 L204.87 456.79 L205.12 456.96 L205.37 457.13 L205.64 457.32 L206.01 457.57 L206.37 457.82 L206.62 457.99 L206.87 458.16 L207.12 458.34 L207.46 458.57 L207.83 458.82 L208.12 459.02 L208.37 459.19 L208.62 459.36 L208.92 459.57 L209.29 459.82 L209.62 460.05 L209.87 460.22 L210.12 460.39 L210.39 460.57 L210.76 460.82 L211.12 461.06 L211.37 461.23 L211.62 461.40 L211.87 461.57 L212.24 461.82 L212.61 462.07 L212.87 462.25 L213.12 462.42 L213.37 462.59 L213.72 462.82 L214.09 463.07 L214.37 463.26 L214.62 463.43 L214.87 463.59 L215.21 463.82 L215.58 464.07 L215.87 464.26 L216.12 464.43 L216.37 464.60 L216.70 464.82 L217.08 465.07 L217.37 465.26"/>
<path stroke="#abc739" stroke-opacity="0.75" d="M80.12 391.40 L80.37 391.64 L80.62 391.87 L80.87 392.11 L81.12 392.34 L81.37 392.57 L81.63 392.82 L81.90 393.07 L82.17 393.32 L82.43 393.57 L82.70 393.82 L82.97 394.07 L83.24 394.32 L83.51 394.57 L83.77 394.82 L84.04 395.07 L84.31 395.32 L84.58 395.57 L84.85 395.82 L85.12 396.07 L85.37 396.30 L85.62 396.53 L85.87 396.76 L86.12 397.00 L86.37 397.23 L86.62 397.46 L86.87 397.69 L87.12 397.92 L87.37 398.15 L87.62 398.38 L87.87 398.61 L88.12 398.84 L88.37 399.07 L88.64 399.32 L88.92 399.57 L89.19 399.82 M115.81 423.32 L116.10 423.57 L116.37 423.80 L116.62 424.01 L116.87 424.22 L117.12 424.43 L117.37 424.64 L117.62 424.86 L117.87 425.07 L118.17 425.32 L118.47 425.57 L118.76 425.82 L119.06 426.07 L119.35 426.32 L119.62 426.54 L119.87 426.75 L120.12 426.96 L120.37 427.17 L120.62 427.38 L120.87 427.59 L121.14 427.82 L121.44 428.07 L121.74 428.32 L122.04 428.57 L122.34 428.82 L122.62 429.06 L122.87 429.27 L123.12 429.47 L123.37 429.68 L123.62 429.89 L123.87 430.10 L124.14 430.32 L124.44 430.57 L124.74 430.82 L125.04 431.07 L125.34 431.32 L125.62 431.55 L125.87 431.76 L126.12 431.97 L126.37 432.17 L126.62 432.38 L126.87 432.58 L127.16 432.82 L127.46 433.07 L127.76 433.32 L128.07 433.57 L128.37 433.82 L128.62 434.03 L128.87 434.23 L129.12 434.44 L129.37 434.64 L129.62 434.85 L129.89 435.07 L130.20 435.32 L130.51 435.57 L130.81 435.82 L131.12 436.07 L131.37 436.27 L131.62 436.48 L131.87 436.68 L132.12 436.89 L132.37 437.09 L132.65 437.32 L132.96 437.57 L133.27 437.82 L133.58 438.07 L133.87 438.31 L134.12 438.51 L134.37 438.71 L134.62 438.91 L134.87 439.11 L135.13 439.32 L135.44 439.57 L135.75 439.82 L136.06 440.07 L136.37 440.32 L136.62 440.52 L136.87 440.72 L137.12 440.92 L137.37 441.13 L137.62 441.33 L137.93 441.57 L138.24 441.82 L138.55 442.07 L138.86 442.32 L139.12 442.52 L139.37 442.72 L139.62 442.92 L139.87 443.12 L140.12 443.32 L140.43 443.57 L140.75 443.82 L141.06 444.07 L141.37 444.31 L141.62 444.51 L141.87 444.71 L142.12 444.91 L142.37 445.11 L142.64 445.32 L142.96 445.57 L143.27 445.82 L143.59 446.07 L143.87 446.29 L144.12 446.49 L144.37 446.68 L144.62 446.88 L144.87 447.08 L145.18 447.32 L145.50 447.57 L145.82 447.82 L146.12 448.06 L146.37 448.25 L146.62 448.45 L146.87 448.65 L147.12 448.84 L147.41 449.07 L147.73 449.32 L148.06 449.57 L148.37 449.81 L148.62 450.01 L148.87 450.20 L149.12 450.40 L149.37 450.59 L149.66 450.82 L149.99 451.07 L150.31 451.32 L150.62 451.56 L150.87 451.75 L151.12 451.95 L151.37 452.14 L151.62 452.33 L151.93 452.57 L152.25 452.82 L152.58 453.07 L152.87 453.30 L153.12 453.49 L153.37 453.68 L153.62 453.87 L153.88 454.07 L154.20 454.32 L154.53 454.57 L154.86 454.82 L155.12 455.02 L155.37 455.21 L155.62 455.40 L155.87 455.59 L156.17 455.82 L156.50 456.07 L156.82 456.32 L157.12 456.54 L157.37 456.73 L157.62 456.92 L157.87 457.11 L158.14 457.32 L158.47 457.57 L158.80 457.82 L159.12 458.06 L159.37 458.25 L159.62 458.44 L159.87 458.63 L160.13 458.82 L160.46 459.07 L160.79 459.32 L161.12 459.57 L161.37 459.76 L161.62 459.94 L161.87 460.13 L162.12 460.32 L162.45 460.57 L162.79 460.82 L163.12 461.07 L163.37 461.26 L163.62 461.44 L163.87 461.63 L164.13 461.82 L164.46 462.07 L164.80 462.32 L165.12 462.56 L165.37 462.75 L165.62 462.93 L165.87 463.12 L166.14 463.32 L166.48 463.57 L166.82 463.82 L167.12 464.04 L167.37 464.23 L167.62 464.41 L167.87 464.60 L168.17 464.82 L168.51 465.07 L168.85 465.32"/>
<path stroke="#fec338" stroke-opacity="0.75" d="M80.12 426.15 L80.37 426.37 L80.62 426.59 L80.88 426.82 L81.16 427.07 L81.44 427.32 L81.72 427.57 L82.00 427.82 L82.29 428.07 L82.57 428.32 L82.85 428.57 L83.12 428.81 L83.37 429.03 L83.62 429.25 L83.87 429.47 L84.12 429.69 L84.37 429.91 L84.62 430.13 L84.87 430.35 L85.12 430.57 L85.40 430.82 L85.69 431.07 L85.97 431.32 L86.26 431.57 L86.54 431.82 L86.83 432.07 L87.12 432.32 L87.37 432.54 L87.62 432.76 L87.87 432.98 L88.12 433.20 L88.37 433.42 L88.62 433.63 L88.87 433.85 L89.12 434.07 L89.41 434.32 L89.70 434.57 L89.98 434.82 L90.27 435.07 L90.56 435.32 L90.85 435.57 L91.12 435.81 L91.37 436.02 L91.62 436.24 L91.87 436.45 L92.12 436.67 L92.37 436.89 L92.62 437.10 L92.87 437.32 L93.16 437.57 L93.45 437.82 L93.74 438.07 L94.04 438.32 L94.33 438.57 L94.62 438.82 L94.87 439.04 L95.12 439.25 L95.37 439.46 L95.62 439.68 L95.87 439.89 L96.12 440.11 L96.37 440.32 L96.66 440.57 L96.96 440.82 L97.25 441.07 L97.54 441.32 L97.84 441.57 L98.12 441.81 L98.37 442.02 L98.62 442.24 L98.87 442.45 L99.12 442.66 L99.37 442.87 L99.62 443.08 L99.90 443.32 L100.19 443.57 L100.49 443.82 L100.78 444.07 L101.08 444.32 L101.37 444.56 L101.62 444.78 L101.87 444.99 L102.12 445.20 L102.37 445.41 L102.62 445.62 L102.87 445.83 L103.16 446.07 L103.46 446.32 L103.76 446.57 L104.05 446.82 L104.35 447.07 L104.62 447.29 L104.87 447.50 L105.12 447.71 L105.37 447.92 L105.62 448.13 L105.87 448.34 L106.15 448.57 L106.45 448.82 L106.75 449.07 L107.05 449.32 L107.35 449.57 L107.62 449.79 L107.87 450.00 L108.12 450.21 L108.37 450.42 L108.62 450.62 L108.87 450.83 L109.16 451.07 L109.46 451.32 L109.77 451.57 L110.07 451.82 L110.37 452.07 L110.62 452.28 L110.87 452.48 L111.12 452.69 L111.37 452.89 L111.62 453.10 L111.89 453.32 L112.19 453.57 L112.50 453.82 L112.80 454.07 L113.11 454.32 L113.37 454.53 L113.62 454.74 L113.87 454.94 L114.12 455.15 L114.37 455.35 L114.64 455.57 L114.95 455.82 L115.25 456.07 L115.56 456.32 L115.87 456.57 L116.12 456.78 L116.37 456.98 L116.62 457.18 L116.87 457.38 L117.12 457.59 L117.41 457.82 L117.72 458.07 L118.03 458.32 L118.33 458.57 L118.62 458.80 L118.87 459.00 L119.12 459.20 L119.37 459.41 L119.62 459.61 L119.88 459.82 L120.20 460.07 L120.51 460.32 L120.82 460.57 L121.12 460.81 L121.37 461.01 L121.62 461.21 L121.87 461.41 L122.12 461.61 L122.38 461.82 L122.69 462.07 L123.00 462.32 L123.32 462.57 L123.62 462.81 L123.87 463.01 L124.12 463.21 L124.37 463.41 L124.62 463.61 L124.89 463.82 L125.20 464.07 L125.52 464.32 L125.83 464.57 L126.12 464.80 L126.37 465.00 L126.62 465.20"/>
<path stroke="#f9fb15" stroke-opacity="0.75" d="M80.12 457.69 L80.37 457.91 L80.62 458.12 L80.87 458.33 L81.15 458.57 L81.44 458.82 L81.74 459.07 L82.03 459.32 L82.33 459.57 L82.62 459.82 L82.87 460.03 L83.12 460.24 L83.37 460.46 L83.62 460.67 L83.87 460.88 L84.12 461.09 L84.39 461.32 L84.69 461.57 L84.98 461.82 L85.28 462.07 L85.58 462.32 L85.87 462.57 L86.12 462.78 L86.37 462.99 L86.62 463.20 L86.87 463.41 L87.12 463.62 L87.37 463.83 L87.66 464.07 L87.96 464.32 L88.26 464.57 L88.55 464.82 L88.85 465.07 L89.12 465.29"/>
</g>
<g font-size="16.4" fill="#000" stroke="#000" stroke-width="0.30" text-anchor="middle">
<text dy="0.36em" transform="translate(165.87 56.56) rotate(-48.9)">50</text>
<text dy="0.36em" transform="translate(227.37 266.79) rotate(44.6)">50</text>
<text dy="0.36em" transform="translate(486.27 178.82) rotate(56.8)">50</text>
<text dy="0.36em" transform="translate(439.04 362.57) rotate(-4.4)">50</text>
<text dy="0.36em" transform="translate(92.12 179.69) rotate(63.6)">100</text>
<text dy="0.36em" transform="translate(537.76 149.07) rotate(53.2)">100</text>
<text dy="0.36em" transform="translate(249.62 356.28) rotate(35.1)">100</text>
<text dy="0.36em" transform="translate(470.87 437.04) rotate(-0.4)">100</text>
<text dy="0.36em" transform="translate(537.58 82.32) rotate(46.3)">150</text>
<text dy="0.36em" transform="translate(98.58 272.07) rotate(50.8)">150</text>
<text dy="0.36em" transform="translate(280.37 425.83) rotate(29.9)">150</text>
<text dy="0.36em" transform="translate(103.60 331.57) rotate(45.7)">200</text>
<text dy="0.36em" transform="translate(103.04 374.57) rotate(43.2)">250</text>
<text dy="0.36em" transform="translate(102.37 411.67) rotate(41.4)">300</text>
</g>
<path d="M456.20 124.00 H466.60 M461.40 118.80 V129.20 M457.97 120.57 L464.83 127.43 M457.97 127.43 L464.83 120.57 M289.30 178.00 H299.70 M294.50 172.80 V183.20 M291.07 174.57 L297.93 181.43 M291.07 181.43 L297.93 174.57 M319.25 191.25 H329.65 M324.45 186.05 V196.45 M321.02 187.82 L327.88 194.68 M321.02 194.68 L327.88 187.82 M326.80 194.00 H337.20 M332.00 188.80 V199.20 M328.57 190.57 L335.43 197.43 M328.57 197.43 L335.43 190.57 M328.00 194.80 H338.40 M333.20 189.60 V200.00 M329.77 191.37 L336.63 198.23 M329.77 198.23 L336.63 191.37 M328.80 195.40 H339.20 M334.00 190.20 V200.60 M330.57 191.97 L337.43 198.83 M330.57 198.83 L337.43 191.97" stroke="#ff0000" stroke-width="1.20" fill="none" stroke-linecap="butt"/>
<path d="M80.20 465.30 V460.80 M80.20 39.30 V43.80 M199.04 465.30 V460.80 M199.04 39.30 V43.80 M318.50 465.30 V460.80 M318.50 39.30 V43.80 M437.47 465.30 V460.80 M437.47 39.30 V43.80 M556.40 465.30 V460.80 M556.40 39.30 V43.80 M80.30 465.30 H84.80 M556.50 465.30 H552.00 M80.30 422.95 H84.80 M556.50 422.95 H552.00 M80.30 380.55 H84.80 M556.50 380.55 H552.00 M80.30 337.50 H84.80 M556.50 337.50 H552.00 M80.30 295.10 H84.80 M556.50 295.10 H552.00 M80.30 252.70 H84.80 M556.50 252.70 H552.00 M80.30 209.40 H84.80 M556.50 209.40 H552.00 M80.30 167.20 H84.80 M556.50 167.20 H552.00 M80.30 123.94 H84.80 M556.50 123.94 H552.00 M80.30 81.58 H84.80 M556.50 81.58 H552.00 M80.30 39.30 H84.80 M556.50 39.30 H552.00" stroke="#5e5e5e" stroke-width="1.2" fill="none"/>
<rect x="80.30" y="39.30" width="476.20" height="426.00" stroke="#5e5e5e" stroke-width="1.2" fill="none"/>
<g font-size="15.4" fill="#262626" stroke="#262626" stroke-width="0.30">
<text transform="translate(72.70 466.20) scale(1 1.100)" dy="0.36em" text-anchor="end">-10</text>
<text transform="translate(72.70 423.85) scale(1 1.100)" dy="0.36em" text-anchor="end">-8</text>
<text transform="translate(72.70 381.45) scale(1 1.100)" dy="0.36em" text-anchor="end">-6</text>
<text transform="translate(72.70 338.40) scale(1 1.100)" dy="0.36em" text-anchor="end">-4</text>
<text transform="translate(72.70 296.00) scale(1 1.100)" dy="0.36em" text-anchor="end">-2</text>
<text transform="translate(72.70 253.60) scale(1 1.100)" dy="0.36em" text-anchor="end">0</text>
<text transform="translate(72.70 210.30) scale(1 1.100)" dy="0.36em" text-anchor="end">2</text>
<text transform="translate(72.70 168.10) scale(1 1.100)" dy="0.36em" text-anchor="end">4</text>
<text transform="translate(72.70 124.84) scale(1 1.100)" dy="0.36em" text-anchor="end">6</text>
<text transform="translate(72.70 82.48) scale(1 1.100)" dy="0.36em" text-anchor="end">8</text>
<text transform="translate(72.70 40.20) scale(1 1.100)" dy="0.36em" text-anchor="end">10</text>
<text transform="translate(80.20 484.00) scale(1 1.100)" dy="0.36em" text-anchor="middle">-10</text>
<text transform="translate(199.04 484.00) scale(1 1.100)" dy="0.36em" text-anchor="middle">-5</text>
<text transform="translate(318.50 484.00) scale(1 1.100)" dy="0.36em" text-anchor="middle">0</text>
<text transform="translate(437.47 484.00) scale(1 1.100)" dy="0.36em" text-anchor="middle">5</text>
<text transform="translate(556.40 484.00) scale(1 1.100)" dy="0.36em" text-anchor="middle">10</text>
</g>
<text transform="translate(318.30 32.20) scale(1 1.07)" text-anchor="middle" font-size="18.3" font-weight="bold" fill="#000">Contours of db(f(x))</text>
<defs><linearGradient id="cb" x1="0" y1="1" x2="0" y2="0"><stop offset="0.0078" stop-color="#3e26a8"/><stop offset="0.0234" stop-color="#402ab4"/><stop offset="0.0391" stop-color="#422ec0"/><stop offset="0.0547" stop-color="#4332cb"/><stop offset="0.0703" stop-color="#4537d5"/><stop offset="0.0859" stop-color="#463cde"/><stop offset="0.1016" stop-color="#4741e5"/><stop offset="0.1172" stop-color="#4747eb"/><stop offset="0.1328" stop-color="#484df0"/><stop offset="0.1484" stop-color="#4852f4"/><stop offset="0.1641" stop-color="#4758f8"/><stop offset="0.1797" stop-color="#465efb"/><stop offset="0.1953" stop-color="#4563fd"/><stop offset="0.2109" stop-color="#4269fe"/><stop offset="0.2266" stop-color="#3e6fff"/><stop offset="0.2422" stop-color="#3875fe"/><stop offset="0.2578" stop-color="#327cfc"/><stop offset="0.2734" stop-color="#2f81fa"/><stop offset="0.2891" stop-color="#2e87f7"/><stop offset="0.3047" stop-color="#2d8cf3"/><stop offset="0.3203" stop-color="#2b91ef"/><stop offset="0.3359" stop-color="#2797eb"/><stop offset="0.3516" stop-color="#259be8"/><stop offset="0.3672" stop-color="#23a0e5"/><stop offset="0.3828" stop-color="#20a5e3"/><stop offset="0.3984" stop-color="#1ca9df"/><stop offset="0.4141" stop-color="#18addb"/><stop offset="0.4297" stop-color="#12b1d6"/><stop offset="0.4453" stop-color="#08b5d0"/><stop offset="0.4609" stop-color="#01b8ca"/><stop offset="0.4766" stop-color="#02bac3"/><stop offset="0.4922" stop-color="#0bbdbd"/><stop offset="0.5078" stop-color="#19bfb6"/><stop offset="0.5234" stop-color="#24c1ae"/><stop offset="0.5391" stop-color="#2cc4a7"/><stop offset="0.5547" stop-color="#31c69f"/><stop offset="0.5703" stop-color="#37c897"/><stop offset="0.5859" stop-color="#3fca8e"/><stop offset="0.6016" stop-color="#4acb84"/><stop offset="0.6172" stop-color="#57cc7a"/><stop offset="0.6328" stop-color="#64cd6f"/><stop offset="0.6484" stop-color="#72cd64"/><stop offset="0.6641" stop-color="#81cc59"/><stop offset="0.6797" stop-color="#8fcb4e"/><stop offset="0.6953" stop-color="#9dc943"/><stop offset="0.7109" stop-color="#abc739"/><stop offset="0.7266" stop-color="#b9c431"/><stop offset="0.7422" stop-color="#c5c22a"/><stop offset="0.7578" stop-color="#d1bf27"/><stop offset="0.7734" stop-color="#dcbd29"/><stop offset="0.7891" stop-color="#e6bb2d"/><stop offset="0.8047" stop-color="#f0ba36"/><stop offset="0.8203" stop-color="#f8ba3d"/><stop offset="0.8359" stop-color="#febe3c"/><stop offset="0.8516" stop-color="#fec338"/><stop offset="0.8672" stop-color="#fec934"/><stop offset="0.8828" stop-color="#fccf30"/><stop offset="0.8984" stop-color="#fad62d"/><stop offset="0.9141" stop-color="#f7dc2a"/><stop offset="0.9297" stop-color="#f5e327"/><stop offset="0.9453" stop-color="#f5e924"/><stop offset="0.9609" stop-color="#f6ef20"/><stop offset="0.9766" stop-color="#f7f51b"/><stop offset="0.9922" stop-color="#f9fb15"/></linearGradient></defs>
<rect x="580.50" y="39.30" width="25.50" height="426.00" fill="url(#cb)"/>
<path d="M606.00 465.30 H602.00 M606.00 404.44 H602.00 M606.00 343.59 H602.00 M606.00 282.73 H602.00 M606.00 221.87 H602.00 M606.00 161.01 H602.00 M606.00 100.16 H602.00 M606.00 39.30 H602.00" stroke="#5e5e5e" stroke-width="1.2" fill="none"/>
<rect x="580.50" y="39.30" width="25.50" height="426.00" stroke="#5e5e5e" stroke-width="1.2" fill="none"/>
<g font-size="15.4" fill="#262626" stroke="#262626" stroke-width="0.30">
<text transform="translate(613.80 467.10) scale(1 1.100)" dy="0.36em">50</text>
<text transform="translate(613.80 406.24) scale(1 1.100)" dy="0.36em">100</text>
<text transform="translate(613.80 345.39) scale(1 1.100)" dy="0.36em">150</text>
<text transform="translate(613.80 284.53) scale(1 1.100)" dy="0.36em">200</text>
<text transform="translate(613.80 223.67) scale(1 1.100)" dy="0.36em">250</text>
<text transform="translate(613.80 162.81) scale(1 1.100)" dy="0.36em">300</text>
<text transform="translate(613.80 101.96) scale(1 1.100)" dy="0.36em">350</text>
<text transform="translate(613.80 41.10) scale(1 1.100)" dy="0.36em">400</text>
</g>
</svg></body></html>
